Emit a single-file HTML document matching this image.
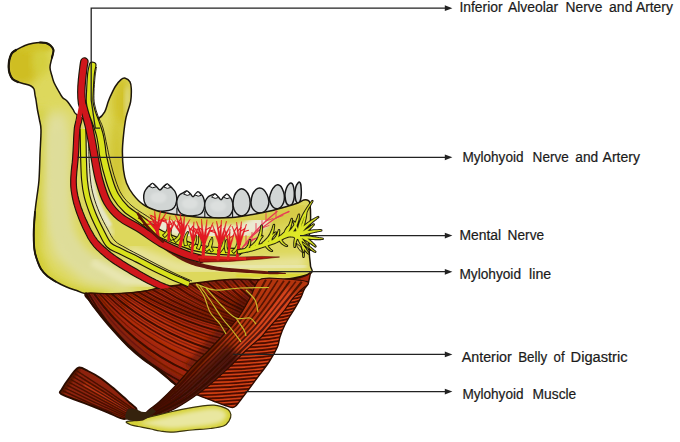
<!DOCTYPE html>
<html><head><meta charset="utf-8"><title>Mandible diagram</title>
<style>
html,body{margin:0;padding:0;background:#fff;}
body{width:680px;height:442px;overflow:hidden;}
svg{display:block;}
text{font-family:"Liberation Sans",sans-serif;font-size:14px;fill:#1a1a1a;stroke:#1a1a1a;stroke-width:0.2px;}
</style></head><body>
<svg width="680" height="442" viewBox="0 0 680 442">
<rect width="680" height="442" fill="#fff"/>
<defs>
<filter id="b1" x="-10%" y="-10%" width="120%" height="120%"><feGaussianBlur stdDeviation="1.2"/></filter>
<filter id="b2" x="-10%" y="-10%" width="120%" height="120%"><feGaussianBlur stdDeviation="2.2"/></filter>
<filter id="b3" x="-20%" y="-20%" width="140%" height="140%"><feGaussianBlur stdDeviation="4"/></filter>
<filter id="b6" x="-30%" y="-30%" width="160%" height="160%"><feGaussianBlur stdDeviation="7"/></filter>
<filter id="soft" x="-2%" y="-2%" width="104%" height="104%"><feGaussianBlur stdDeviation="0.55"/></filter>
<filter id="soft2" x="-2%" y="-2%" width="104%" height="104%"><feGaussianBlur stdDeviation="0.35"/></filter>
<clipPath id="cb"><path d="M10.0,57.5C10.5,56.0 11.0,54.2 12.0,53.0C13.0,51.8 13.8,51.2 16.0,50.0C18.2,48.8 22.2,46.6 25.0,45.5C27.8,44.4 30.5,43.8 33.0,43.3C35.5,42.8 37.8,42.5 40.0,42.5C42.2,42.5 44.2,42.5 46.0,43.0C47.8,43.5 49.2,44.3 50.5,45.5C51.8,46.7 53.2,48.0 53.5,50.0C53.8,52.0 52.6,54.6 52.0,57.5C51.4,60.4 50.0,64.4 50.0,67.5C50.0,70.6 51.3,73.5 52.0,76.0C52.7,78.5 53.0,80.2 54.0,82.5C55.0,84.8 56.6,87.5 58.0,90.0C59.4,92.5 61.0,95.7 62.5,97.5C64.0,99.3 65.2,99.0 67.0,101.0C68.8,103.0 71.5,107.2 73.0,109.4C74.5,111.6 73.5,112.1 76.0,114.0C78.5,115.9 84.2,120.2 88.0,121.0C91.8,121.8 95.7,120.0 98.5,118.5C101.3,117.0 103.1,114.6 104.7,111.8C106.3,109.0 107.2,104.4 108.2,101.8C109.2,99.2 109.4,98.5 110.6,95.9C111.8,93.4 113.6,89.2 115.3,86.5C117.0,83.8 119.3,81.0 121.0,79.6C122.7,78.2 123.8,77.8 125.3,78.2C126.8,78.6 129.0,80.0 130.0,81.8C131.0,83.6 131.2,85.5 131.3,88.8C131.4,92.1 131.5,97.0 130.6,101.8C129.7,106.6 127.2,112.0 126.0,117.6C124.8,123.2 124.1,129.6 123.5,135.3C122.9,141.0 122.4,146.2 122.4,152.0C122.4,157.8 122.8,164.8 123.5,170.0C124.2,175.2 124.9,178.9 126.5,183.0C128.1,187.1 130.2,190.8 133.0,194.4C135.8,198.0 138.9,201.6 143.0,204.4C147.1,207.2 152.0,209.3 157.6,211.0C163.2,212.7 169.0,213.6 176.8,214.7C184.7,215.8 195.5,217.1 204.7,217.6C213.9,218.1 224.0,218.1 232.0,217.6C240.0,217.1 246.3,215.6 252.6,214.5C258.9,213.4 264.6,212.2 270.0,211.0C275.4,209.8 280.5,208.3 285.2,207.0C289.9,205.7 294.9,204.2 298.0,203.0C301.1,201.8 302.1,200.4 303.8,200.0C305.5,199.6 307.0,199.7 308.0,200.4C309.0,201.1 309.6,200.4 310.0,204.0C310.4,207.6 310.7,216.0 310.5,222.0C310.3,228.0 309.2,234.3 309.0,240.0C308.8,245.7 309.2,251.7 309.5,256.0C309.8,260.3 310.4,263.1 310.5,266.0C310.6,268.9 314.6,271.2 310.4,273.5C306.1,275.8 293.4,278.3 285.0,279.5C276.6,280.7 269.2,280.4 260.0,280.5C250.8,280.6 241.7,279.3 230.0,280.0C218.3,280.7 201.7,283.0 190.0,284.5C178.3,286.0 170.0,287.6 160.0,289.0C150.0,290.4 138.0,292.2 130.0,293.0C122.0,293.8 119.3,293.9 112.0,294.0C104.7,294.1 92.0,294.3 86.1,293.7C80.2,293.1 79.9,291.6 76.6,290.5C73.2,289.4 69.5,288.3 66.0,286.8C62.5,285.3 58.7,283.3 55.5,281.5C52.3,279.7 49.4,277.9 47.0,275.8C44.6,273.7 42.5,271.3 41.0,269.0C39.5,266.7 38.8,264.7 37.8,262.0C36.8,259.3 35.6,255.8 35.0,253.0C34.4,250.2 34.2,248.8 34.0,245.0C33.8,241.2 33.6,235.5 33.8,230.0C34.0,224.5 34.5,217.7 35.0,212.0C35.5,206.3 36.3,201.3 37.0,196.0C37.7,190.7 38.5,186.8 39.0,180.0C39.5,173.2 39.7,163.3 40.0,155.0C40.3,146.7 41.1,135.8 41.0,130.0C40.9,124.2 40.1,123.3 39.5,120.0C38.9,116.7 38.1,113.3 37.5,110.0C36.9,106.7 36.4,102.5 36.0,100.0C35.6,97.5 35.3,96.8 35.0,95.0C34.7,93.2 34.7,90.5 34.0,89.0C33.3,87.5 32.5,86.8 31.0,86.0C29.5,85.2 27.2,84.7 25.0,84.0C22.8,83.3 20.1,82.8 18.0,82.0C15.9,81.2 13.9,80.5 12.5,79.0C11.1,77.5 10.1,74.9 9.5,73.0C8.9,71.1 8.8,69.3 8.7,67.5C8.6,65.7 8.8,63.7 9.0,62.0C9.2,60.3 9.5,59.0 10.0,57.5Z"/></clipPath>
<clipPath id="cm"><path d="M86.0,293.5C89.5,292.0 102.5,294.2 112.0,293.8C121.5,293.4 135.0,292.4 143.0,291.4C151.0,290.4 152.4,288.9 160.0,287.6C167.6,286.3 176.7,285.2 188.4,283.8C200.1,282.4 217.9,280.2 230.0,279.5C242.1,278.8 251.5,279.9 260.7,279.8C269.9,279.8 278.4,279.6 285.0,279.2C291.6,278.8 296.3,278.3 300.0,277.6C303.7,276.9 305.3,276.0 307.0,275.2C308.7,274.4 310.0,272.2 310.3,273.0C310.6,273.8 309.4,278.2 309.0,280.0C308.6,281.8 308.8,282.3 308.0,284.0C307.2,285.7 305.1,287.8 304.0,290.0C302.9,292.2 302.6,294.1 301.2,297.0C299.8,299.9 297.3,304.3 295.3,307.6C293.3,310.9 291.2,314.1 289.4,317.0C287.6,319.9 286.3,322.0 284.7,325.3C283.1,328.6 281.2,333.4 280.0,337.0C278.8,340.6 279.2,342.8 277.4,347.0C275.6,351.2 272.8,356.3 269.0,362.0C265.2,367.7 259.2,375.2 254.8,381.2C250.4,387.2 245.8,393.5 242.3,397.8C238.8,402.1 237.1,406.0 234.0,407.2C230.9,408.4 227.5,406.0 224.0,405.0C220.5,404.0 217.8,402.7 213.2,401.0C208.6,399.3 202.7,397.3 196.6,394.7C190.5,392.1 181.0,387.6 176.8,385.4C172.6,383.1 174.8,383.8 171.6,381.2C168.4,378.6 162.5,373.2 157.8,369.5C153.1,365.8 148.0,362.8 143.2,359.0C138.3,355.2 133.6,351.3 128.7,346.6C123.8,341.9 118.5,336.0 114.0,331.0C109.5,326.0 105.4,321.1 101.6,316.4C97.8,311.7 93.8,306.7 91.2,302.9C88.6,299.1 82.5,295.0 86.0,293.5Z"/></clipPath>
<clipPath id="cd"><path d="M146.6,412.4C147.6,410.0 154.1,406.5 159.0,402.0C163.9,397.5 170.2,391.3 175.8,385.4C181.4,379.5 186.9,372.5 192.4,366.6C197.9,360.7 203.6,355.6 209.0,350.0C214.4,344.4 220.0,338.6 225.0,333.0C230.0,327.4 234.8,322.5 239.0,316.5C243.2,310.5 247.0,303.2 250.5,297.0C254.0,290.8 254.4,282.5 260.0,279.5C265.6,276.5 276.0,278.6 284.0,279.0C292.0,279.4 305.0,280.2 307.8,282.0C310.6,283.8 303.5,287.3 301.0,290.0C298.5,292.7 295.7,294.9 293.0,298.2C290.3,301.5 287.6,306.3 284.7,310.0C281.8,313.7 278.2,317.3 275.3,320.6C272.4,323.9 269.4,327.3 267.0,330.0C264.6,332.7 264.6,333.7 261.2,337.0C257.8,340.3 251.7,345.1 246.5,350.0C241.3,354.9 236.2,360.7 229.9,366.6C223.7,372.5 215.2,380.2 209.0,385.4C202.8,390.6 198.6,393.6 192.4,397.8C186.2,402.0 178.2,407.2 171.6,410.3C165.0,413.4 157.1,416.2 152.9,416.6C148.7,417.0 145.6,414.8 146.6,412.4Z"/></clipPath>
<clipPath id="ch"><path d="M126.3,421.8C127.1,421.1 130.9,421.4 135.0,420.5C139.1,419.6 145.6,417.9 150.8,416.6C156.0,415.4 160.8,414.2 166.0,413.0C171.2,411.8 175.9,410.5 182.0,409.3C188.1,408.1 197.5,406.5 202.8,405.8C208.1,405.1 210.9,405.1 214.0,405.2C217.1,405.3 219.2,405.9 221.5,406.6C223.8,407.3 226.4,408.2 228.0,409.5C229.6,410.8 230.7,412.6 230.9,414.5C231.1,416.4 230.2,419.1 229.0,421.0C227.8,422.9 226.8,424.8 223.6,426.0C220.4,427.2 215.2,427.8 210.0,428.5C204.8,429.2 198.8,429.4 192.4,430.0C186.0,430.6 177.0,432.0 171.6,432.2C166.2,432.4 163.5,431.5 160.0,431.0C156.5,430.5 154.5,429.8 150.8,429.0C147.1,428.2 141.5,427.2 138.0,426.5C134.5,425.8 131.9,425.3 130.0,424.5C128.1,423.7 125.5,422.5 126.3,421.8Z"/></clipPath>
<clipPath id="cp"><path d="M78.5,367.7C81.5,366.7 84.4,369.3 88.0,371.0C91.6,372.7 96.3,375.3 100.3,378.0C104.3,380.7 108.2,383.9 112.0,387.0C115.8,390.1 120.2,394.1 123.2,396.8C126.2,399.5 127.8,401.0 130.0,403.0C132.2,405.0 135.8,407.2 136.5,409.0C137.2,410.8 136.1,412.3 134.0,414.0C131.9,415.7 128.3,419.2 124.0,419.0C119.7,418.8 113.3,414.7 108.0,412.5C102.7,410.3 97.3,408.1 92.0,406.0C86.7,403.9 81.2,402.1 76.0,400.0C70.8,397.9 63.1,395.5 60.8,393.7C58.5,391.9 60.5,391.8 62.0,389.0C63.5,386.2 67.2,380.6 70.0,377.0C72.8,373.4 75.5,368.7 78.5,367.7Z"/></clipPath>
</defs>
<g filter="url(#soft)">
<path d="M146,203 L177,207 L205,209 L232,209 L250,207 L269,204 L285,200 L300,196 L301,204 L232,222 L205,222 L177,219 L147,210Z" fill="#dadddc"/>
<path d="M143.7,198.0C143.6,196.1 143.9,193.7 144.5,192.0C145.1,190.3 146.2,189.1 147.0,188.0C147.8,186.9 148.5,186.4 149.4,185.6C150.3,184.8 151.3,183.3 152.5,183.4C153.7,183.5 155.1,185.3 156.3,186.4C157.5,187.5 158.7,189.9 159.9,190.0C161.1,190.1 162.1,187.8 163.3,186.8C164.5,185.8 165.9,183.9 167.2,184.0C168.5,184.1 170.0,186.1 171.3,187.3C172.6,188.6 174.1,189.7 175.0,191.5C175.9,193.3 176.7,195.8 176.8,198.0C176.9,200.2 176.4,203.1 175.6,205.0C174.8,206.9 173.8,208.3 172.0,209.3C170.2,210.3 167.5,210.7 165.0,211.0C162.5,211.3 159.7,211.4 157.0,211.0C154.3,210.6 151.0,209.8 149.0,208.5C147.0,207.2 145.9,205.2 145.0,203.5C144.1,201.8 143.8,199.9 143.7,198.0Z" fill="#d1d5d4" stroke="#161616" stroke-width="1.4" stroke-linejoin="round"/>
<ellipse cx="158.5" cy="197.5" rx="8" ry="5.5" fill="#dcdfde" filter="url(#b1)"/>
<path d="M176.8,203.0C176.7,201.2 177.1,199.4 177.6,198.0C178.1,196.6 179.0,195.4 180.0,194.5C181.0,193.6 182.3,193.2 183.5,192.6C184.7,192.0 185.9,190.8 187.0,191.0C188.1,191.2 189.3,192.8 190.3,193.8C191.3,194.8 192.1,196.8 193.0,196.8C193.9,196.8 194.7,194.8 195.5,194.0C196.3,193.2 197.1,191.8 198.0,191.8C198.9,191.8 200.1,193.1 201.0,194.0C201.9,194.9 202.8,196.0 203.4,197.5C204.0,199.0 204.6,201.0 204.7,203.0C204.8,205.0 204.5,207.7 203.8,209.5C203.1,211.3 202.1,212.9 200.5,214.0C198.9,215.1 196.2,215.5 194.0,215.8C191.8,216.1 189.2,216.0 187.0,215.6C184.8,215.2 182.5,214.6 181.0,213.5C179.5,212.4 178.7,210.8 178.0,209.0C177.3,207.2 176.9,204.8 176.8,203.0Z" fill="#d1d5d4" stroke="#161616" stroke-width="1.4" stroke-linejoin="round"/>
<ellipse cx="189.8" cy="203.5" rx="8" ry="5.5" fill="#dcdfde" filter="url(#b1)"/>
<path d="M204.7,205.5C204.6,203.7 205.0,201.9 205.6,200.5C206.2,199.1 207.0,197.9 208.0,197.0C209.0,196.1 210.3,195.7 211.5,195.2C212.7,194.7 213.8,193.7 215.0,194.0C216.2,194.3 217.4,196.0 218.4,197.0C219.4,198.0 220.1,199.8 220.9,199.8C221.8,199.8 222.5,197.7 223.5,196.8C224.5,195.9 225.8,194.2 226.8,194.2C227.8,194.2 228.8,195.6 229.6,196.6C230.4,197.6 231.2,198.5 231.8,200.0C232.4,201.5 232.9,203.6 233.0,205.5C233.1,207.4 232.9,209.8 232.2,211.5C231.5,213.2 230.6,214.9 229.0,216.0C227.4,217.1 224.8,217.7 222.5,218.0C220.2,218.3 217.7,218.3 215.5,218.0C213.3,217.7 211.1,217.1 209.5,216.0C207.9,214.9 206.8,213.2 206.0,211.5C205.2,209.8 204.8,207.3 204.7,205.5Z" fill="#d1d5d4" stroke="#161616" stroke-width="1.4" stroke-linejoin="round"/>
<ellipse cx="218.1" cy="206.1" rx="8" ry="5.5" fill="#dcdfde" filter="url(#b1)"/>
<path d="M233.0,203.0C233.1,200.7 233.7,197.6 234.5,195.5C235.3,193.4 236.8,191.6 238.0,190.5C239.2,189.4 240.2,188.7 241.5,188.7C242.8,188.7 244.2,189.3 245.5,190.5C246.8,191.7 248.2,193.9 249.0,196.0C249.8,198.1 250.2,200.8 250.2,203.0C250.2,205.2 249.7,207.7 249.0,209.5C248.3,211.3 247.2,212.9 246.0,214.0C244.8,215.1 243.0,216.0 241.5,216.0C240.0,216.0 238.2,215.1 237.0,214.0C235.8,212.9 234.7,211.3 234.0,209.5C233.3,207.7 232.9,205.3 233.0,203.0Z" fill="#d2d6d5" stroke="#161616" stroke-width="1.5"/>
<path d="M251.0,202.0C251.1,199.8 251.7,196.6 252.5,194.5C253.3,192.4 254.8,190.6 256.0,189.5C257.2,188.4 258.2,187.9 259.5,187.9C260.8,187.9 262.2,188.3 263.5,189.5C264.8,190.7 266.3,193.0 267.2,195.0C268.1,197.0 268.8,199.5 268.9,201.5C269.0,203.5 268.5,205.3 267.8,207.0C267.1,208.7 265.8,210.5 264.5,211.5C263.2,212.5 261.5,213.0 260.0,213.0C258.5,213.0 256.8,212.4 255.5,211.5C254.2,210.6 252.8,209.1 252.0,207.5C251.2,205.9 250.9,204.2 251.0,202.0Z" fill="#d2d6d5" stroke="#161616" stroke-width="1.5"/>
<path d="M269.5,198.0C269.7,196.0 270.6,193.0 271.5,191.0C272.4,189.0 273.9,187.1 275.0,186.0C276.1,184.9 277.0,184.6 278.0,184.7C279.0,184.8 280.1,185.3 281.0,186.5C281.9,187.7 283.0,190.2 283.6,192.0C284.2,193.8 284.4,195.8 284.4,197.5C284.4,199.2 284.2,200.9 283.6,202.5C283.0,204.1 282.0,205.9 281.0,207.0C280.0,208.1 278.8,208.7 277.5,208.8C276.2,208.9 274.7,208.5 273.5,207.5C272.3,206.5 271.2,204.6 270.5,203.0C269.8,201.4 269.3,200.0 269.5,198.0Z" fill="#d2d6d5" stroke="#161616" stroke-width="1.5"/>
<path d="M285.0,194.0C285.2,192.0 285.8,189.7 286.5,188.0C287.2,186.3 288.2,184.8 289.0,184.0C289.8,183.2 290.3,182.8 291.0,183.0C291.7,183.2 292.5,183.7 293.0,185.0C293.5,186.3 294.0,189.2 294.2,191.0C294.4,192.8 294.4,194.4 294.3,196.0C294.2,197.6 294.0,199.1 293.6,200.5C293.2,201.9 292.5,203.7 291.8,204.5C291.1,205.3 290.3,205.6 289.5,205.5C288.7,205.4 287.7,204.9 287.0,204.0C286.3,203.1 285.8,201.7 285.5,200.0C285.2,198.3 284.8,196.0 285.0,194.0Z" fill="#d2d6d5" stroke="#161616" stroke-width="1.5"/>
<path d="M295.0,192.0C295.1,190.2 295.5,188.0 296.0,186.5C296.5,185.0 297.4,183.7 298.0,183.0C298.6,182.3 299.1,181.9 299.6,182.2C300.1,182.4 300.5,183.0 300.8,184.5C301.1,186.0 301.2,189.2 301.3,191.0C301.4,192.8 301.3,194.1 301.2,195.5C301.1,196.9 300.9,198.3 300.6,199.5C300.3,200.7 299.7,201.9 299.2,202.5C298.7,203.1 298.0,203.2 297.5,203.0C297.0,202.8 296.4,202.0 296.0,201.0C295.6,200.0 295.4,198.5 295.2,197.0C295.0,195.5 294.9,193.8 295.0,192.0Z" fill="#d2d6d5" stroke="#161616" stroke-width="1.5"/>
<path d="M149.1,186.4 L152.5,183.2 L156.1,186.8 L152.7,187.8 Z" fill="#f6f6f6" stroke="#161616" stroke-width="1" stroke-linejoin="round"/>
<path d="M163.8,187.0 L167.2,183.8 L170.8,187.4 L167.4,188.4 Z" fill="#f6f6f6" stroke="#161616" stroke-width="1" stroke-linejoin="round"/>
<path d="M183.6,194.0 L187.0,190.8 L190.6,194.4 L187.2,195.4 Z" fill="#f6f6f6" stroke="#161616" stroke-width="1" stroke-linejoin="round"/>
<path d="M194.6,194.8 L198.0,191.6 L201.6,195.2 L198.2,196.2 Z" fill="#f6f6f6" stroke="#161616" stroke-width="1" stroke-linejoin="round"/>
<path d="M211.6,197.0 L215.0,193.8 L218.6,197.4 L215.2,198.4 Z" fill="#f6f6f6" stroke="#161616" stroke-width="1" stroke-linejoin="round"/>
<path d="M223.4,197.2 L226.8,194.0 L230.4,197.6 L227.0,198.6 Z" fill="#f6f6f6" stroke="#161616" stroke-width="1" stroke-linejoin="round"/>
<path d="M10.0,57.5C10.5,56.0 11.0,54.2 12.0,53.0C13.0,51.8 13.8,51.2 16.0,50.0C18.2,48.8 22.2,46.6 25.0,45.5C27.8,44.4 30.5,43.8 33.0,43.3C35.5,42.8 37.8,42.5 40.0,42.5C42.2,42.5 44.2,42.5 46.0,43.0C47.8,43.5 49.2,44.3 50.5,45.5C51.8,46.7 53.2,48.0 53.5,50.0C53.8,52.0 52.6,54.6 52.0,57.5C51.4,60.4 50.0,64.4 50.0,67.5C50.0,70.6 51.3,73.5 52.0,76.0C52.7,78.5 53.0,80.2 54.0,82.5C55.0,84.8 56.6,87.5 58.0,90.0C59.4,92.5 61.0,95.7 62.5,97.5C64.0,99.3 65.2,99.0 67.0,101.0C68.8,103.0 71.5,107.2 73.0,109.4C74.5,111.6 73.5,112.1 76.0,114.0C78.5,115.9 84.2,120.2 88.0,121.0C91.8,121.8 95.7,120.0 98.5,118.5C101.3,117.0 103.1,114.6 104.7,111.8C106.3,109.0 107.2,104.4 108.2,101.8C109.2,99.2 109.4,98.5 110.6,95.9C111.8,93.4 113.6,89.2 115.3,86.5C117.0,83.8 119.3,81.0 121.0,79.6C122.7,78.2 123.8,77.8 125.3,78.2C126.8,78.6 129.0,80.0 130.0,81.8C131.0,83.6 131.2,85.5 131.3,88.8C131.4,92.1 131.5,97.0 130.6,101.8C129.7,106.6 127.2,112.0 126.0,117.6C124.8,123.2 124.1,129.6 123.5,135.3C122.9,141.0 122.4,146.2 122.4,152.0C122.4,157.8 122.8,164.8 123.5,170.0C124.2,175.2 124.9,178.9 126.5,183.0C128.1,187.1 130.2,190.8 133.0,194.4C135.8,198.0 138.9,201.6 143.0,204.4C147.1,207.2 152.0,209.3 157.6,211.0C163.2,212.7 169.0,213.6 176.8,214.7C184.7,215.8 195.5,217.1 204.7,217.6C213.9,218.1 224.0,218.1 232.0,217.6C240.0,217.1 246.3,215.6 252.6,214.5C258.9,213.4 264.6,212.2 270.0,211.0C275.4,209.8 280.5,208.3 285.2,207.0C289.9,205.7 294.9,204.2 298.0,203.0C301.1,201.8 302.1,200.4 303.8,200.0C305.5,199.6 307.0,199.7 308.0,200.4C309.0,201.1 309.6,200.4 310.0,204.0C310.4,207.6 310.7,216.0 310.5,222.0C310.3,228.0 309.2,234.3 309.0,240.0C308.8,245.7 309.2,251.7 309.5,256.0C309.8,260.3 310.4,263.1 310.5,266.0C310.6,268.9 314.6,271.2 310.4,273.5C306.1,275.8 293.4,278.3 285.0,279.5C276.6,280.7 269.2,280.4 260.0,280.5C250.8,280.6 241.7,279.3 230.0,280.0C218.3,280.7 201.7,283.0 190.0,284.5C178.3,286.0 170.0,287.6 160.0,289.0C150.0,290.4 138.0,292.2 130.0,293.0C122.0,293.8 119.3,293.9 112.0,294.0C104.7,294.1 92.0,294.3 86.1,293.7C80.2,293.1 79.9,291.6 76.6,290.5C73.2,289.4 69.5,288.3 66.0,286.8C62.5,285.3 58.7,283.3 55.5,281.5C52.3,279.7 49.4,277.9 47.0,275.8C44.6,273.7 42.5,271.3 41.0,269.0C39.5,266.7 38.8,264.7 37.8,262.0C36.8,259.3 35.6,255.8 35.0,253.0C34.4,250.2 34.2,248.8 34.0,245.0C33.8,241.2 33.6,235.5 33.8,230.0C34.0,224.5 34.5,217.7 35.0,212.0C35.5,206.3 36.3,201.3 37.0,196.0C37.7,190.7 38.5,186.8 39.0,180.0C39.5,173.2 39.7,163.3 40.0,155.0C40.3,146.7 41.1,135.8 41.0,130.0C40.9,124.2 40.1,123.3 39.5,120.0C38.9,116.7 38.1,113.3 37.5,110.0C36.9,106.7 36.4,102.5 36.0,100.0C35.6,97.5 35.3,96.8 35.0,95.0C34.7,93.2 34.7,90.5 34.0,89.0C33.3,87.5 32.5,86.8 31.0,86.0C29.5,85.2 27.2,84.7 25.0,84.0C22.8,83.3 20.1,82.8 18.0,82.0C15.9,81.2 13.9,80.5 12.5,79.0C11.1,77.5 10.1,74.9 9.5,73.0C8.9,71.1 8.8,69.3 8.7,67.5C8.6,65.7 8.8,63.7 9.0,62.0C9.2,60.3 9.5,59.0 10.0,57.5Z" fill="#ddd85c"/>
<g clip-path="url(#cb)">
<ellipse cx="22" cy="64" rx="18" ry="22" fill="#cfbe22" filter="url(#b3)"/>
<ellipse cx="34" cy="47" rx="18" ry="7" fill="#d1c328" filter="url(#b2)"/>
<ellipse cx="41" cy="62" rx="9" ry="13" fill="#d4cf3c" filter="url(#b3)"/>
<ellipse cx="122" cy="102" rx="10" ry="26" fill="#d1c22a" filter="url(#b3)"/>
<ellipse cx="117" cy="160" rx="8" ry="40" fill="#d1c636" filter="url(#b3)"/>
<ellipse cx="127.5" cy="102" rx="3" ry="17" fill="#ddd878" filter="url(#b2)"/>
<path d="M43,110 L40,160 L38,200 L33,250 L45,280 L70,293 L110,296" stroke="#d2cd30" stroke-width="13" fill="none" filter="url(#b3)"/>
<path d="M57,112 L56,200 L64,250 L90,272 L135,280" stroke="#e0dfa0" stroke-width="24" fill="none" filter="url(#b6)"/>
<path d="M58,130 L60,230 L80,258 L110,274" stroke="#dedd9a" stroke-width="16" fill="none" filter="url(#b3)"/>
<path d="M92,262 L125,280 L160,284" stroke="#e8e6b0" stroke-width="8" fill="none" filter="url(#b2)"/>
<path d="M86,150 L92,200 L112,235" stroke="#e4e2a6" stroke-width="6" fill="none" filter="url(#b2)"/>
<path d="M128,250 L180,268 L240,266 L305,262" stroke="#e9e5a2" stroke-width="11" fill="none" filter="url(#b3)"/>
<path d="M150,214 L210,227 L260,223 L305,209" stroke="#d5ca44" stroke-width="15" fill="none" filter="url(#b3)"/>
<path d="M160,224 L200,234 L240,232 L262,222" stroke="#ecead2" stroke-width="15" fill="none" filter="url(#b2)" stroke-linecap="round"/>
<path d="M200,266 L250,267.5 L306,266" stroke="#e8e7ae" stroke-width="7" fill="none" filter="url(#b2)"/>
<path d="M236,276.5 L310,274.4" stroke="#dcd832" stroke-width="4.4" fill="none" filter="url(#b1)"/>
<path d="M306,205 L306,268" stroke="#d8d040" stroke-width="7" fill="none" filter="url(#b2)"/>
</g>
<path d="M10.0,57.5C10.5,56.0 11.0,54.2 12.0,53.0C13.0,51.8 13.8,51.2 16.0,50.0C18.2,48.8 22.2,46.6 25.0,45.5C27.8,44.4 30.5,43.8 33.0,43.3C35.5,42.8 37.8,42.5 40.0,42.5C42.2,42.5 44.2,42.5 46.0,43.0C47.8,43.5 49.2,44.3 50.5,45.5C51.8,46.7 53.2,48.0 53.5,50.0C53.8,52.0 52.6,54.6 52.0,57.5C51.4,60.4 50.0,64.4 50.0,67.5C50.0,70.6 51.3,73.5 52.0,76.0C52.7,78.5 53.0,80.2 54.0,82.5C55.0,84.8 56.6,87.5 58.0,90.0C59.4,92.5 61.0,95.7 62.5,97.5C64.0,99.3 65.2,99.0 67.0,101.0C68.8,103.0 71.5,107.2 73.0,109.4C74.5,111.6 73.5,112.1 76.0,114.0C78.5,115.9 84.2,120.2 88.0,121.0C91.8,121.8 95.7,120.0 98.5,118.5C101.3,117.0 103.1,114.6 104.7,111.8C106.3,109.0 107.2,104.4 108.2,101.8C109.2,99.2 109.4,98.5 110.6,95.9C111.8,93.4 113.6,89.2 115.3,86.5C117.0,83.8 119.3,81.0 121.0,79.6C122.7,78.2 123.8,77.8 125.3,78.2C126.8,78.6 129.0,80.0 130.0,81.8C131.0,83.6 131.2,85.5 131.3,88.8C131.4,92.1 131.5,97.0 130.6,101.8C129.7,106.6 127.2,112.0 126.0,117.6C124.8,123.2 124.1,129.6 123.5,135.3C122.9,141.0 122.4,146.2 122.4,152.0C122.4,157.8 122.8,164.8 123.5,170.0C124.2,175.2 124.9,178.9 126.5,183.0C128.1,187.1 130.2,190.8 133.0,194.4C135.8,198.0 138.9,201.6 143.0,204.4C147.1,207.2 152.0,209.3 157.6,211.0C163.2,212.7 169.0,213.6 176.8,214.7C184.7,215.8 195.5,217.1 204.7,217.6C213.9,218.1 224.0,218.1 232.0,217.6C240.0,217.1 246.3,215.6 252.6,214.5C258.9,213.4 264.6,212.2 270.0,211.0C275.4,209.8 280.5,208.3 285.2,207.0C289.9,205.7 294.9,204.2 298.0,203.0C301.1,201.8 302.1,200.4 303.8,200.0C305.5,199.6 307.0,199.7 308.0,200.4C309.0,201.1 309.6,200.4 310.0,204.0C310.4,207.6 310.7,216.0 310.5,222.0C310.3,228.0 309.2,234.3 309.0,240.0C308.8,245.7 309.2,251.7 309.5,256.0C309.8,260.3 310.4,263.1 310.5,266.0C310.6,268.9 314.6,271.2 310.4,273.5C306.1,275.8 293.4,278.3 285.0,279.5C276.6,280.7 269.2,280.4 260.0,280.5C250.8,280.6 241.7,279.3 230.0,280.0C218.3,280.7 201.7,283.0 190.0,284.5C178.3,286.0 170.0,287.6 160.0,289.0C150.0,290.4 138.0,292.2 130.0,293.0C122.0,293.8 119.3,293.9 112.0,294.0C104.7,294.1 92.0,294.3 86.1,293.7C80.2,293.1 79.9,291.6 76.6,290.5C73.2,289.4 69.5,288.3 66.0,286.8C62.5,285.3 58.7,283.3 55.5,281.5C52.3,279.7 49.4,277.9 47.0,275.8C44.6,273.7 42.5,271.3 41.0,269.0C39.5,266.7 38.8,264.7 37.8,262.0C36.8,259.3 35.6,255.8 35.0,253.0C34.4,250.2 34.2,248.8 34.0,245.0C33.8,241.2 33.6,235.5 33.8,230.0C34.0,224.5 34.5,217.7 35.0,212.0C35.5,206.3 36.3,201.3 37.0,196.0C37.7,190.7 38.5,186.8 39.0,180.0C39.5,173.2 39.7,163.3 40.0,155.0C40.3,146.7 41.1,135.8 41.0,130.0C40.9,124.2 40.1,123.3 39.5,120.0C38.9,116.7 38.1,113.3 37.5,110.0C36.9,106.7 36.4,102.5 36.0,100.0C35.6,97.5 35.3,96.8 35.0,95.0C34.7,93.2 34.7,90.5 34.0,89.0C33.3,87.5 32.5,86.8 31.0,86.0C29.5,85.2 27.2,84.7 25.0,84.0C22.8,83.3 20.1,82.8 18.0,82.0C15.9,81.2 13.9,80.5 12.5,79.0C11.1,77.5 10.1,74.9 9.5,73.0C8.9,71.1 8.8,69.3 8.7,67.5C8.6,65.7 8.8,63.7 9.0,62.0C9.2,60.3 9.5,59.0 10.0,57.5Z" fill="none" stroke="#1d1608" stroke-width="1.5" stroke-linejoin="round"/>
<path d="M16.0,50.0C15.3,50.5 13.0,51.8 12.0,53.0C11.0,54.2 10.5,56.0 10.0,57.5C9.5,59.0 9.2,60.3 9.0,62.0C8.8,63.7 8.6,65.7 8.7,67.5C8.8,69.3 8.9,71.1 9.5,73.0C10.1,74.9 11.1,77.5 12.5,79.0C13.9,80.5 17.1,81.5 18.0,82.0" fill="none" stroke="#1d1608" stroke-width="2.2" stroke-linecap="round"/>
<path d="M40.0,42.5C41.0,42.6 44.2,42.5 46.0,43.0C47.8,43.5 49.2,44.3 50.5,45.5C51.8,46.7 53.2,48.0 53.5,50.0C53.8,52.0 52.2,56.2 52.0,57.5" fill="none" stroke="#1d1608" stroke-width="2" stroke-linecap="round"/>
<path d="M35.0,212.0C34.8,215.0 34.0,224.5 33.8,230.0C33.6,235.5 33.8,241.2 34.0,245.0C34.2,248.8 34.4,250.2 35.0,253.0C35.6,255.8 36.8,259.3 37.8,262.0C38.8,264.7 39.5,266.7 41.0,269.0C42.5,271.3 44.6,273.7 47.0,275.8C49.4,277.9 54.1,280.6 55.5,281.5" fill="none" stroke="#1d1608" stroke-width="1.9" stroke-linecap="round"/>
<path d="M176.9,214.7 l0,-7" stroke="#161616" stroke-width="1.1"/>
<path d="M204.8,217.6 l0,-7" stroke="#161616" stroke-width="1.1"/>
<path d="M232.6,217.6 l0,-7" stroke="#161616" stroke-width="1.1"/>
<path d="M86.0,293.5C89.5,292.0 102.5,294.2 112.0,293.8C121.5,293.4 135.0,292.4 143.0,291.4C151.0,290.4 152.4,288.9 160.0,287.6C167.6,286.3 176.7,285.2 188.4,283.8C200.1,282.4 217.9,280.2 230.0,279.5C242.1,278.8 251.5,279.9 260.7,279.8C269.9,279.8 278.4,279.6 285.0,279.2C291.6,278.8 296.3,278.3 300.0,277.6C303.7,276.9 305.3,276.0 307.0,275.2C308.7,274.4 310.0,272.2 310.3,273.0C310.6,273.8 309.4,278.2 309.0,280.0C308.6,281.8 308.8,282.3 308.0,284.0C307.2,285.7 305.1,287.8 304.0,290.0C302.9,292.2 302.6,294.1 301.2,297.0C299.8,299.9 297.3,304.3 295.3,307.6C293.3,310.9 291.2,314.1 289.4,317.0C287.6,319.9 286.3,322.0 284.7,325.3C283.1,328.6 281.2,333.4 280.0,337.0C278.8,340.6 279.2,342.8 277.4,347.0C275.6,351.2 272.8,356.3 269.0,362.0C265.2,367.7 259.2,375.2 254.8,381.2C250.4,387.2 245.8,393.5 242.3,397.8C238.8,402.1 237.1,406.0 234.0,407.2C230.9,408.4 227.5,406.0 224.0,405.0C220.5,404.0 217.8,402.7 213.2,401.0C208.6,399.3 202.7,397.3 196.6,394.7C190.5,392.1 181.0,387.6 176.8,385.4C172.6,383.1 174.8,383.8 171.6,381.2C168.4,378.6 162.5,373.2 157.8,369.5C153.1,365.8 148.0,362.8 143.2,359.0C138.3,355.2 133.6,351.3 128.7,346.6C123.8,341.9 118.5,336.0 114.0,331.0C109.5,326.0 105.4,321.1 101.6,316.4C97.8,311.7 93.8,306.7 91.2,302.9C88.6,299.1 82.5,295.0 86.0,293.5Z" fill="#a5280a"/>
<g clip-path="url(#cm)">
<path d="M86,293 L120,335 L160,372 L200,395" stroke="#7a1c07" stroke-width="13" fill="none" filter="url(#b3)"/>
<path d="M128,304 L170,335 L205,352" stroke="#bd3210" stroke-width="20" fill="none" filter="url(#b3)"/>
<path d="M300,296 L278,345 L250,388" stroke="#c4360f" stroke-width="12" fill="none" filter="url(#b2)"/>
<path d="M90,295 L200,284 L300,278" stroke="#85200a" stroke-width="5" fill="none" filter="url(#b1)"/>
<path d="M254,284 L236,314 L207,348 L188,368" stroke="#6a1a08" stroke-width="9" fill="none" filter="url(#b2)" opacity="0.8"/>
<path d="M88.5,293.5 Q121.1,350.9 179.8,381.0" stroke="#380a02" stroke-width="1.6" fill="none" opacity="0.95"/>
<path d="M91.2,293.6 Q125.9,348.1 184.0,376.2" stroke="#5a1405" stroke-width="1.2" fill="none" opacity="0.6"/>
<path d="M94.0,293.6 Q130.5,345.3 188.2,371.4" stroke="#380a02" stroke-width="1.9" fill="none" opacity="0.95"/>
<path d="M96.8,293.6 Q135.2,342.5 192.6,366.4" stroke="#5a1405" stroke-width="1.2" fill="none" opacity="0.6"/>
<path d="M99.7,293.7 Q140.2,339.8 197.6,361.4" stroke="#4a0e03" stroke-width="1.6" fill="none" opacity="0.95"/>
<path d="M102.6,293.7 Q144.7,337.3 201.9,357.1" stroke="#5a1405" stroke-width="1.2" fill="none" opacity="0.6"/>
<path d="M105.6,293.7 Q148.1,335.5 204.5,354.5" stroke="#4a0e03" stroke-width="1.7" fill="none" opacity="0.95"/>
<path d="M108.6,293.8 Q151.5,333.6 207.2,351.8" stroke="#5a1405" stroke-width="1.2" fill="none" opacity="0.6"/>
<path d="M111.6,293.8 Q154.9,331.8 209.8,349.1" stroke="#380a02" stroke-width="2.1" fill="none" opacity="0.95"/>
<path d="M114.8,293.6 Q158.2,329.9 212.4,346.4" stroke="#5a1405" stroke-width="1.2" fill="none" opacity="0.6"/>
<path d="M117.9,293.3 Q161.6,328.0 215.0,343.6" stroke="#4a0e03" stroke-width="1.7" fill="none" opacity="0.95"/>
<path d="M121.1,293.1 Q164.9,326.0 217.7,340.7" stroke="#5a1405" stroke-width="1.2" fill="none" opacity="0.6"/>
<path d="M124.4,292.8 Q168.2,324.2 220.2,338.1" stroke="#3e0b02" stroke-width="1.6" fill="none" opacity="0.95"/>
<path d="M127.7,292.6 Q171.5,322.3 222.7,335.4" stroke="#5a1405" stroke-width="1.2" fill="none" opacity="0.6"/>
<path d="M131.0,292.3 Q174.7,320.6 225.2,332.8" stroke="#380a02" stroke-width="1.9" fill="none" opacity="0.95"/>
<path d="M134.5,292.1 Q177.9,318.7 227.5,330.0" stroke="#5a1405" stroke-width="1.2" fill="none" opacity="0.6"/>
<path d="M137.9,291.8 Q180.8,317.1 229.5,327.8" stroke="#3e0b02" stroke-width="1.7" fill="none" opacity="0.95"/>
<path d="M141.4,291.5 Q183.1,316.1 230.3,326.8" stroke="#5a1405" stroke-width="1.2" fill="none" opacity="0.6"/>
<path d="M144.9,291.0 Q185.4,315.0 231.1,325.8" stroke="#3e0b02" stroke-width="1.7" fill="none" opacity="0.95"/>
<path d="M148.5,290.2 Q187.7,313.7 232.0,324.8" stroke="#5a1405" stroke-width="1.2" fill="none" opacity="0.6"/>
<path d="M152.1,289.4 Q189.9,312.5 232.8,323.8" stroke="#4a0e03" stroke-width="1.9" fill="none" opacity="0.95"/>
<path d="M155.8,288.5 Q192.3,311.2 233.7,322.7" stroke="#5a1405" stroke-width="1.2" fill="none" opacity="0.6"/>
<path d="M159.5,287.7 Q194.6,310.0 234.6,321.7" stroke="#3e0b02" stroke-width="1.6" fill="none" opacity="0.95"/>
<path d="M163.2,287.2 Q197.0,309.0 235.5,320.7" stroke="#5a1405" stroke-width="1.2" fill="none" opacity="0.6"/>
<path d="M167.0,286.7 Q199.4,307.9 236.4,319.6" stroke="#541104" stroke-width="1.6" fill="none" opacity="0.95"/>
<path d="M170.8,286.1 Q201.9,306.9 237.3,318.5" stroke="#5a1405" stroke-width="1.2" fill="none" opacity="0.6"/>
<path d="M174.7,285.6 Q204.3,305.8 238.2,317.5" stroke="#4a0e03" stroke-width="1.9" fill="none" opacity="0.95"/>
<path d="M178.6,285.1 Q206.7,304.8 239.1,316.4" stroke="#5a1405" stroke-width="1.2" fill="none" opacity="0.6"/>
<path d="M182.5,284.6 Q209.1,303.7 239.7,315.2" stroke="#541104" stroke-width="1.6" fill="none" opacity="0.95"/>
<path d="M186.5,284.1 Q211.5,302.6 240.5,314.0" stroke="#5a1405" stroke-width="1.2" fill="none" opacity="0.6"/>
<path d="M190.5,283.6 Q214.0,301.5 241.3,312.7" stroke="#3e0b02" stroke-width="1.7" fill="none" opacity="0.95"/>
<path d="M194.5,283.2 Q216.4,300.4 242.0,311.4" stroke="#5a1405" stroke-width="1.2" fill="none" opacity="0.6"/>
<path d="M198.6,282.7 Q218.9,299.3 242.8,310.0" stroke="#380a02" stroke-width="2.1" fill="none" opacity="0.95"/>
<path d="M202.7,282.3 Q221.4,298.2 243.6,308.7" stroke="#5a1405" stroke-width="1.2" fill="none" opacity="0.6"/>
<path d="M206.8,281.9 Q223.9,297.1 244.4,307.4" stroke="#380a02" stroke-width="1.7" fill="none" opacity="0.95"/>
<path d="M210.9,281.5 Q226.4,296.0 245.2,306.0" stroke="#5a1405" stroke-width="1.2" fill="none" opacity="0.6"/>
<path d="M215.1,281.0 Q229.0,294.9 246.0,304.7" stroke="#541104" stroke-width="2.1" fill="none" opacity="0.95"/>
<path d="M219.3,280.6 Q231.5,293.8 246.8,303.3" stroke="#5a1405" stroke-width="1.2" fill="none" opacity="0.6"/>
<path d="M223.5,280.2 Q234.1,292.6 247.6,302.0" stroke="#4a0e03" stroke-width="2.1" fill="none" opacity="0.95"/>
<path d="M227.7,279.7 Q236.9,291.2 248.8,299.9" stroke="#5a1405" stroke-width="1.2" fill="none" opacity="0.6"/>
<path d="M231.9,279.5 Q240.0,289.5 250.4,297.2" stroke="#3e0b02" stroke-width="1.7" fill="none" opacity="0.95"/>
<path d="M236.2,279.5 Q243.0,288.0 251.9,294.5" stroke="#5a1405" stroke-width="1.2" fill="none" opacity="0.6"/>
<path d="M240.4,279.5 Q246.1,286.5 253.3,291.8" stroke="#3e0b02" stroke-width="1.6" fill="none" opacity="0.95"/>
<path d="M244.7,279.5 Q249.1,285.0 254.8,289.1" stroke="#5a1405" stroke-width="1.2" fill="none" opacity="0.6"/>
<path d="M249.0,279.5 Q252.2,283.4 256.2,286.4" stroke="#3e0b02" stroke-width="2.1" fill="none" opacity="0.95"/>
<path d="M253.3,279.5 Q255.2,281.9 257.7,283.7" stroke="#5a1405" stroke-width="1.2" fill="none" opacity="0.6"/>
<path d="M257.6,279.5 Q258.3,280.4 259.2,281.0" stroke="#380a02" stroke-width="1.7" fill="none" opacity="0.95"/>
<path d="M258.0,279.5 Q258.6,280.2 259.3,280.8" stroke="#5a1405" stroke-width="1.2" fill="none" opacity="0.6"/>
<path d="M297.0,292.0 Q301.9,291.5 306.7,288.8" stroke="#470e03" stroke-width="1.8" fill="none" opacity="0.92"/>
<path d="M297.0,293.8 Q301.9,293.3 306.7,290.6" stroke="#e04a18" stroke-width="1.5" fill="none" opacity="0.75"/>
<path d="M293.4,295.7 Q299.2,295.2 304.9,292.5" stroke="#470e03" stroke-width="1.8" fill="none" opacity="0.92"/>
<path d="M293.4,297.5 Q299.2,297.0 304.9,294.3" stroke="#e04a18" stroke-width="1.5" fill="none" opacity="0.75"/>
<path d="M290.2,299.4 Q296.8,298.9 303.4,296.2" stroke="#470e03" stroke-width="1.8" fill="none" opacity="0.92"/>
<path d="M290.2,301.2 Q296.8,300.7 303.4,298.0" stroke="#e04a18" stroke-width="1.5" fill="none" opacity="0.75"/>
<path d="M287.6,303.1 Q294.5,302.6 301.5,299.9" stroke="#470e03" stroke-width="1.8" fill="none" opacity="0.92"/>
<path d="M287.6,304.9 Q294.5,304.4 301.5,301.7" stroke="#e04a18" stroke-width="1.5" fill="none" opacity="0.75"/>
<path d="M285.0,306.8 Q292.2,306.3 299.4,303.6" stroke="#470e03" stroke-width="1.8" fill="none" opacity="0.92"/>
<path d="M285.0,308.6 Q292.2,308.1 299.4,305.4" stroke="#e04a18" stroke-width="1.5" fill="none" opacity="0.75"/>
<path d="M282.3,310.5 Q289.8,310.0 297.4,307.3" stroke="#470e03" stroke-width="1.8" fill="none" opacity="0.92"/>
<path d="M282.3,312.3 Q289.8,311.8 297.4,309.1" stroke="#e04a18" stroke-width="1.5" fill="none" opacity="0.75"/>
<path d="M279.0,314.2 Q287.0,313.7 295.0,311.0" stroke="#470e03" stroke-width="1.8" fill="none" opacity="0.92"/>
<path d="M279.0,316.0 Q287.0,315.5 295.0,312.8" stroke="#e04a18" stroke-width="1.5" fill="none" opacity="0.75"/>
<path d="M275.7,317.9 Q284.2,317.4 292.7,314.7" stroke="#470e03" stroke-width="1.8" fill="none" opacity="0.92"/>
<path d="M275.7,319.7 Q284.2,319.2 292.7,316.5" stroke="#e04a18" stroke-width="1.5" fill="none" opacity="0.75"/>
<path d="M272.4,321.6 Q281.5,321.1 290.5,318.4" stroke="#470e03" stroke-width="1.8" fill="none" opacity="0.92"/>
<path d="M272.4,323.4 Q281.5,322.9 290.5,320.2" stroke="#e04a18" stroke-width="1.5" fill="none" opacity="0.75"/>
<path d="M269.2,325.3 Q278.8,324.8 288.4,322.1" stroke="#470e03" stroke-width="1.8" fill="none" opacity="0.92"/>
<path d="M269.2,327.1 Q278.8,326.6 288.4,323.9" stroke="#e04a18" stroke-width="1.5" fill="none" opacity="0.75"/>
<path d="M265.9,329.0 Q276.2,328.5 286.4,325.8" stroke="#470e03" stroke-width="1.8" fill="none" opacity="0.92"/>
<path d="M265.9,330.8 Q276.2,330.3 286.4,327.6" stroke="#e04a18" stroke-width="1.5" fill="none" opacity="0.75"/>
<path d="M262.8,332.7 Q273.8,332.2 284.9,329.5" stroke="#470e03" stroke-width="1.8" fill="none" opacity="0.92"/>
<path d="M262.8,334.5 Q273.8,334.0 284.9,331.3" stroke="#e04a18" stroke-width="1.5" fill="none" opacity="0.75"/>
<path d="M259.7,336.4 Q271.6,335.9 283.4,333.2" stroke="#470e03" stroke-width="1.8" fill="none" opacity="0.92"/>
<path d="M259.7,338.2 Q271.6,337.7 283.4,335.0" stroke="#e04a18" stroke-width="1.5" fill="none" opacity="0.75"/>
<path d="M255.7,340.1 Q268.8,339.6 282.0,336.9" stroke="#470e03" stroke-width="1.8" fill="none" opacity="0.92"/>
<path d="M255.7,341.9 Q268.8,341.4 282.0,338.7" stroke="#e04a18" stroke-width="1.5" fill="none" opacity="0.75"/>
<path d="M251.5,343.8 Q266.3,343.3 281.0,340.6" stroke="#470e03" stroke-width="1.8" fill="none" opacity="0.92"/>
<path d="M251.5,345.6 Q266.3,345.1 281.0,342.4" stroke="#e04a18" stroke-width="1.5" fill="none" opacity="0.75"/>
<path d="M247.3,347.5 Q263.7,347.0 280.1,344.3" stroke="#470e03" stroke-width="1.8" fill="none" opacity="0.92"/>
<path d="M247.3,349.3 Q263.7,348.8 280.1,346.1" stroke="#e04a18" stroke-width="1.5" fill="none" opacity="0.75"/>
<path d="M243.3,351.2 Q261.0,350.7 278.7,348.0" stroke="#470e03" stroke-width="1.8" fill="none" opacity="0.92"/>
<path d="M243.3,353.0 Q261.0,352.5 278.7,349.8" stroke="#e04a18" stroke-width="1.5" fill="none" opacity="0.75"/>
<path d="M239.6,354.9 Q258.1,354.4 276.7,351.7" stroke="#470e03" stroke-width="1.8" fill="none" opacity="0.92"/>
<path d="M239.6,356.7 Q258.1,356.2 276.7,353.5" stroke="#e04a18" stroke-width="1.5" fill="none" opacity="0.75"/>
<path d="M235.9,358.6 Q255.2,358.1 274.6,355.4" stroke="#470e03" stroke-width="1.8" fill="none" opacity="0.92"/>
<path d="M235.9,360.4 Q255.2,359.9 274.6,357.2" stroke="#e04a18" stroke-width="1.5" fill="none" opacity="0.75"/>
<path d="M232.2,362.3 Q252.4,361.8 272.5,359.1" stroke="#470e03" stroke-width="1.8" fill="none" opacity="0.92"/>
<path d="M232.2,364.1 Q252.4,363.6 272.5,360.9" stroke="#e04a18" stroke-width="1.5" fill="none" opacity="0.75"/>
<path d="M228.5,366.0 Q249.4,365.5 270.3,362.8" stroke="#470e03" stroke-width="1.8" fill="none" opacity="0.92"/>
<path d="M228.5,367.8 Q249.4,367.3 270.3,364.6" stroke="#e04a18" stroke-width="1.5" fill="none" opacity="0.75"/>
<path d="M224.5,369.7 Q246.0,369.2 267.5,366.5" stroke="#470e03" stroke-width="1.8" fill="none" opacity="0.92"/>
<path d="M224.5,371.5 Q246.0,371.0 267.5,368.3" stroke="#e04a18" stroke-width="1.5" fill="none" opacity="0.75"/>
<path d="M220.3,373.4 Q242.6,372.9 264.8,370.2" stroke="#470e03" stroke-width="1.8" fill="none" opacity="0.92"/>
<path d="M220.3,375.2 Q242.6,374.7 264.8,372.0" stroke="#e04a18" stroke-width="1.5" fill="none" opacity="0.75"/>
<path d="M216.2,377.1 Q239.1,376.6 262.1,373.9" stroke="#470e03" stroke-width="1.8" fill="none" opacity="0.92"/>
<path d="M216.2,378.9 Q239.1,378.4 262.1,375.7" stroke="#e04a18" stroke-width="1.5" fill="none" opacity="0.75"/>
<path d="M212.1,380.8 Q235.7,380.3 259.3,377.6" stroke="#470e03" stroke-width="1.8" fill="none" opacity="0.92"/>
<path d="M212.1,382.6 Q235.7,382.1 259.3,379.4" stroke="#e04a18" stroke-width="1.5" fill="none" opacity="0.75"/>
<path d="M208.0,384.5 Q232.3,384.0 256.6,381.3" stroke="#470e03" stroke-width="1.8" fill="none" opacity="0.92"/>
<path d="M208.0,386.3 Q232.3,385.8 256.6,383.1" stroke="#e04a18" stroke-width="1.5" fill="none" opacity="0.75"/>
<path d="M203.3,388.2 Q228.5,387.7 253.8,385.0" stroke="#470e03" stroke-width="1.8" fill="none" opacity="0.92"/>
<path d="M203.3,390.0 Q228.5,389.5 253.8,386.8" stroke="#e04a18" stroke-width="1.5" fill="none" opacity="0.75"/>
<path d="M198.3,391.9 Q224.7,391.4 251.0,388.7" stroke="#470e03" stroke-width="1.8" fill="none" opacity="0.92"/>
<path d="M198.3,393.7 Q224.7,393.2 251.0,390.5" stroke="#e04a18" stroke-width="1.5" fill="none" opacity="0.75"/>
<path d="M193.3,395.6 Q220.8,395.1 248.2,392.4" stroke="#470e03" stroke-width="1.8" fill="none" opacity="0.92"/>
<path d="M193.3,397.4 Q220.8,396.9 248.2,394.2" stroke="#e04a18" stroke-width="1.5" fill="none" opacity="0.75"/>
<path d="M187.9,399.3 Q216.7,398.8 245.4,396.1" stroke="#470e03" stroke-width="1.8" fill="none" opacity="0.92"/>
<path d="M187.9,401.1 Q216.7,400.6 245.4,397.9" stroke="#e04a18" stroke-width="1.5" fill="none" opacity="0.75"/>
<path d="M181.7,403.0 Q212.1,402.5 242.4,399.8" stroke="#470e03" stroke-width="1.8" fill="none" opacity="0.92"/>
<path d="M181.7,404.8 Q212.1,404.3 242.4,401.6" stroke="#e04a18" stroke-width="1.5" fill="none" opacity="0.75"/>
<path d="M175.6,406.7 Q207.3,406.2 239.1,403.5" stroke="#470e03" stroke-width="1.8" fill="none" opacity="0.92"/>
<path d="M175.6,408.5 Q207.3,408.0 239.1,405.3" stroke="#e04a18" stroke-width="1.5" fill="none" opacity="0.75"/>
</g>
<path d="M86.0,293.5C89.5,292.0 102.5,294.2 112.0,293.8C121.5,293.4 135.0,292.4 143.0,291.4C151.0,290.4 152.4,288.9 160.0,287.6C167.6,286.3 176.7,285.2 188.4,283.8C200.1,282.4 217.9,280.2 230.0,279.5C242.1,278.8 251.5,279.9 260.7,279.8C269.9,279.8 278.4,279.6 285.0,279.2C291.6,278.8 296.3,278.3 300.0,277.6C303.7,276.9 305.3,276.0 307.0,275.2C308.7,274.4 310.0,272.2 310.3,273.0C310.6,273.8 309.4,278.2 309.0,280.0C308.6,281.8 308.8,282.3 308.0,284.0C307.2,285.7 305.1,287.8 304.0,290.0C302.9,292.2 302.6,294.1 301.2,297.0C299.8,299.9 297.3,304.3 295.3,307.6C293.3,310.9 291.2,314.1 289.4,317.0C287.6,319.9 286.3,322.0 284.7,325.3C283.1,328.6 281.2,333.4 280.0,337.0C278.8,340.6 279.2,342.8 277.4,347.0C275.6,351.2 272.8,356.3 269.0,362.0C265.2,367.7 259.2,375.2 254.8,381.2C250.4,387.2 245.8,393.5 242.3,397.8C238.8,402.1 237.1,406.0 234.0,407.2C230.9,408.4 227.5,406.0 224.0,405.0C220.5,404.0 217.8,402.7 213.2,401.0C208.6,399.3 202.7,397.3 196.6,394.7C190.5,392.1 181.0,387.6 176.8,385.4C172.6,383.1 174.8,383.8 171.6,381.2C168.4,378.6 162.5,373.2 157.8,369.5C153.1,365.8 148.0,362.8 143.2,359.0C138.3,355.2 133.6,351.3 128.7,346.6C123.8,341.9 118.5,336.0 114.0,331.0C109.5,326.0 105.4,321.1 101.6,316.4C97.8,311.7 93.8,306.7 91.2,302.9C88.6,299.1 82.5,295.0 86.0,293.5Z" fill="none" stroke="#300c03" stroke-width="1.4"/>
<path d="M86.0,293.5C86.9,295.1 88.6,299.1 91.2,302.9C93.8,306.7 97.8,311.7 101.6,316.4C105.4,321.1 109.5,326.0 114.0,331.0C118.5,336.0 123.8,341.9 128.7,346.6C133.6,351.3 138.3,355.2 143.2,359.0C148.0,362.8 153.1,365.8 157.8,369.5C162.5,373.2 168.4,378.6 171.6,381.2C174.8,383.8 175.9,384.7 176.8,385.4" fill="none" stroke="#2a0a03" stroke-width="2.4" stroke-linecap="round"/>
<path d="M146.6,412.4C147.6,410.0 154.1,406.5 159.0,402.0C163.9,397.5 170.2,391.3 175.8,385.4C181.4,379.5 186.9,372.5 192.4,366.6C197.9,360.7 203.6,355.6 209.0,350.0C214.4,344.4 220.0,338.6 225.0,333.0C230.0,327.4 234.8,322.5 239.0,316.5C243.2,310.5 247.0,303.2 250.5,297.0C254.0,290.8 254.4,282.5 260.0,279.5C265.6,276.5 276.0,278.6 284.0,279.0C292.0,279.4 305.0,280.2 307.8,282.0C310.6,283.8 303.5,287.3 301.0,290.0C298.5,292.7 295.7,294.9 293.0,298.2C290.3,301.5 287.6,306.3 284.7,310.0C281.8,313.7 278.2,317.3 275.3,320.6C272.4,323.9 269.4,327.3 267.0,330.0C264.6,332.7 264.6,333.7 261.2,337.0C257.8,340.3 251.7,345.1 246.5,350.0C241.3,354.9 236.2,360.7 229.9,366.6C223.7,372.5 215.2,380.2 209.0,385.4C202.8,390.6 198.6,393.6 192.4,397.8C186.2,402.0 178.2,407.2 171.6,410.3C165.0,413.4 157.1,416.2 152.9,416.6C148.7,417.0 145.6,414.8 146.6,412.4Z" fill="#b4350f"/>
<g clip-path="url(#cd)">
<path d="M292,292 L262,328 L232,360" stroke="#d9461a" stroke-width="16" fill="none" filter="url(#b2)" opacity="0.9"/>
<path d="M236,352 L200,385 L150,416" stroke="#4e1607" stroke-width="26" fill="none" filter="url(#b3)"/>
<path d="M252,287 L230,325 L200,362 L160,404" stroke="#5a1606" stroke-width="5" fill="none" filter="url(#b1)" opacity="0.85"/>
<path d="M266.0,279.8C263.7,283.7 257.1,295.5 252.3,303.0C247.4,310.5 242.4,318.0 236.8,324.9C231.2,331.9 224.7,338.3 218.6,344.8C212.4,351.3 206.9,356.5 199.6,364.0C192.3,371.5 183.4,381.8 174.7,389.9C166.0,398.1 151.9,409.1 147.4,412.9" stroke="#3e0c03" stroke-width="2.2" fill="none" opacity="0.8"/>
<path d="M271.9,280.1C269.5,284.0 262.5,295.8 257.3,303.4C252.2,311.0 247.0,318.5 241.2,325.6C235.3,332.7 228.7,339.1 222.4,345.7C216.0,352.4 210.5,357.7 202.9,365.3C195.3,372.9 186.1,383.2 177.0,391.2C167.9,399.3 153.0,409.7 148.2,413.4" stroke="#3e0c03" stroke-width="1.6" fill="none" opacity="0.8"/>
<path d="M277.9,280.4C275.3,284.3 267.8,296.1 262.4,303.8C257.0,311.4 251.6,319.1 245.5,326.2C239.5,333.4 232.7,340.0 226.2,346.7C219.6,353.4 214.0,358.9 206.2,366.6C198.4,374.2 188.7,384.6 179.2,392.5C169.7,400.4 154.0,410.4 149.0,414.0" stroke="#3e0c03" stroke-width="1.6" fill="none" opacity="0.8"/>
<path d="M283.9,280.8C281.2,284.7 273.1,296.5 267.4,304.2C261.8,311.9 256.2,319.7 249.9,326.9C243.7,334.1 236.7,340.8 230.0,347.6C223.2,354.4 217.6,360.2 209.5,367.9C201.4,375.6 191.4,386.1 181.4,393.8C171.5,401.6 155.0,411.1 149.8,414.5" stroke="#4a1004" stroke-width="1.9" fill="none" opacity="0.8"/>
<path d="M289.9,281.1C287.0,285.0 278.4,296.8 272.5,304.6C266.6,312.3 260.7,320.2 254.3,327.6C247.8,334.9 240.7,341.6 233.8,348.5C226.9,355.5 221.2,361.4 212.8,369.2C204.5,376.9 194.1,387.5 183.7,395.1C173.3,402.8 156.1,411.7 150.5,415.0" stroke="#340a02" stroke-width="1.9" fill="none" opacity="0.8"/>
<path d="M295.9,281.4C292.8,285.3 283.8,297.2 277.6,305.0C271.4,312.8 265.3,320.8 258.7,328.2C252.0,335.6 244.7,342.4 237.6,349.5C230.5,356.5 224.8,362.6 216.1,370.4C207.5,378.3 196.7,388.9 185.9,396.4C175.1,403.9 157.1,412.4 151.3,415.6" stroke="#4a1004" stroke-width="1.6" fill="none" opacity="0.8"/>
<path d="M301.8,281.7C298.6,285.6 289.1,297.5 282.6,305.4C276.2,313.2 269.9,321.4 263.1,328.9C256.2,336.4 248.7,343.2 241.4,350.4C234.1,357.5 228.3,363.8 219.5,371.7C210.6,379.6 199.4,390.3 188.1,397.7C176.9,405.1 158.1,413.0 152.1,416.1" stroke="#340a02" stroke-width="2.2" fill="none" opacity="0.8"/>
</g>
<path d="M146.6,412.4C147.6,410.0 154.1,406.5 159.0,402.0C163.9,397.5 170.2,391.3 175.8,385.4C181.4,379.5 186.9,372.5 192.4,366.6C197.9,360.7 203.6,355.6 209.0,350.0C214.4,344.4 220.0,338.6 225.0,333.0C230.0,327.4 234.8,322.5 239.0,316.5C243.2,310.5 247.0,303.2 250.5,297.0C254.0,290.8 254.4,282.5 260.0,279.5C265.6,276.5 276.0,278.6 284.0,279.0C292.0,279.4 305.0,280.2 307.8,282.0C310.6,283.8 303.5,287.3 301.0,290.0C298.5,292.7 295.7,294.9 293.0,298.2C290.3,301.5 287.6,306.3 284.7,310.0C281.8,313.7 278.2,317.3 275.3,320.6C272.4,323.9 269.4,327.3 267.0,330.0C264.6,332.7 264.6,333.7 261.2,337.0C257.8,340.3 251.7,345.1 246.5,350.0C241.3,354.9 236.2,360.7 229.9,366.6C223.7,372.5 215.2,380.2 209.0,385.4C202.8,390.6 198.6,393.6 192.4,397.8C186.2,402.0 178.2,407.2 171.6,410.3C165.0,413.4 157.1,416.2 152.9,416.6C148.7,417.0 145.6,414.8 146.6,412.4Z" fill="none" stroke="#2e0b03" stroke-width="1.2"/>
<path d="M126.3,421.8C127.1,421.1 130.9,421.4 135.0,420.5C139.1,419.6 145.6,417.9 150.8,416.6C156.0,415.4 160.8,414.2 166.0,413.0C171.2,411.8 175.9,410.5 182.0,409.3C188.1,408.1 197.5,406.5 202.8,405.8C208.1,405.1 210.9,405.1 214.0,405.2C217.1,405.3 219.2,405.9 221.5,406.6C223.8,407.3 226.4,408.2 228.0,409.5C229.6,410.8 230.7,412.6 230.9,414.5C231.1,416.4 230.2,419.1 229.0,421.0C227.8,422.9 226.8,424.8 223.6,426.0C220.4,427.2 215.2,427.8 210.0,428.5C204.8,429.2 198.8,429.4 192.4,430.0C186.0,430.6 177.0,432.0 171.6,432.2C166.2,432.4 163.5,431.5 160.0,431.0C156.5,430.5 154.5,429.8 150.8,429.0C147.1,428.2 141.5,427.2 138.0,426.5C134.5,425.8 131.9,425.3 130.0,424.5C128.1,423.7 125.5,422.5 126.3,421.8Z" fill="#d6d238"/>
<g clip-path="url(#ch)"><path d="M140.0,423.0C139.3,421.9 147.3,421.1 152.0,420.0C156.7,418.9 162.7,417.7 168.0,416.5C173.3,415.3 178.2,414.2 184.0,413.0C189.8,411.8 197.8,410.2 203.0,409.5C208.2,408.8 211.7,408.4 215.0,408.6C218.3,408.8 221.1,409.4 223.0,410.5C224.9,411.6 226.7,413.2 226.5,415.0C226.3,416.8 224.8,419.8 222.0,421.5C219.2,423.2 215.0,424.1 210.0,425.0C205.0,425.9 198.3,426.2 192.0,426.8C185.7,427.4 178.0,428.6 172.0,428.5C166.0,428.4 161.3,427.4 156.0,426.5C150.7,425.6 140.7,424.1 140.0,423.0Z" fill="#e9e7a0" filter="url(#b2)"/></g>
<path d="M126.3,421.8C127.1,421.1 130.9,421.4 135.0,420.5C139.1,419.6 145.6,417.9 150.8,416.6C156.0,415.4 160.8,414.2 166.0,413.0C171.2,411.8 175.9,410.5 182.0,409.3C188.1,408.1 197.5,406.5 202.8,405.8C208.1,405.1 210.9,405.1 214.0,405.2C217.1,405.3 219.2,405.9 221.5,406.6C223.8,407.3 226.4,408.2 228.0,409.5C229.6,410.8 230.7,412.6 230.9,414.5C231.1,416.4 230.2,419.1 229.0,421.0C227.8,422.9 226.8,424.8 223.6,426.0C220.4,427.2 215.2,427.8 210.0,428.5C204.8,429.2 198.8,429.4 192.4,430.0C186.0,430.6 177.0,432.0 171.6,432.2C166.2,432.4 163.5,431.5 160.0,431.0C156.5,430.5 154.5,429.8 150.8,429.0C147.1,428.2 141.5,427.2 138.0,426.5C134.5,425.8 131.9,425.3 130.0,424.5C128.1,423.7 125.5,422.5 126.3,421.8Z" fill="none" stroke="#3a340c" stroke-width="1.2"/>
<path d="M78.5,367.7C81.5,366.7 84.4,369.3 88.0,371.0C91.6,372.7 96.3,375.3 100.3,378.0C104.3,380.7 108.2,383.9 112.0,387.0C115.8,390.1 120.2,394.1 123.2,396.8C126.2,399.5 127.8,401.0 130.0,403.0C132.2,405.0 135.8,407.2 136.5,409.0C137.2,410.8 136.1,412.3 134.0,414.0C131.9,415.7 128.3,419.2 124.0,419.0C119.7,418.8 113.3,414.7 108.0,412.5C102.7,410.3 97.3,408.1 92.0,406.0C86.7,403.9 81.2,402.1 76.0,400.0C70.8,397.9 63.1,395.5 60.8,393.7C58.5,391.9 60.5,391.8 62.0,389.0C63.5,386.2 67.2,380.6 70.0,377.0C72.8,373.4 75.5,368.7 78.5,367.7Z" fill="#8e240a"/>
<g clip-path="url(#cp)">
<path d="M84,384 L104,396 L128,411" stroke="#c23812" stroke-width="4.5" fill="none" filter="url(#b1)" opacity="0.9"/>
<path d="M78.5,367.7 L60.8,393.7" stroke="#5a1606" stroke-width="5" fill="none" filter="url(#b1)"/>
<path d="M76.5,370.6 Q106.4,389.2 134.7,410.1" stroke="#461004" stroke-width="1.5" fill="none" opacity="0.9"/>
<path d="M74.6,373.5 Q104.5,391.5 133.3,411.2" stroke="#461004" stroke-width="1.5" fill="none" opacity="0.9"/>
<path d="M72.6,376.4 Q102.6,393.9 132.0,412.3" stroke="#461004" stroke-width="1.5" fill="none" opacity="0.9"/>
<path d="M70.6,379.3 Q100.8,396.2 130.7,413.4" stroke="#461004" stroke-width="1.5" fill="none" opacity="0.9"/>
<path d="M68.7,382.1 Q98.9,398.5 129.3,414.6" stroke="#461004" stroke-width="1.5" fill="none" opacity="0.9"/>
<path d="M66.7,385.0 Q97.0,400.9 128.0,415.7" stroke="#461004" stroke-width="1.5" fill="none" opacity="0.9"/>
<path d="M64.7,387.9 Q95.1,403.2 126.7,416.8" stroke="#461004" stroke-width="1.5" fill="none" opacity="0.9"/>
<path d="M62.8,390.8 Q93.3,405.5 125.3,417.9" stroke="#461004" stroke-width="1.5" fill="none" opacity="0.9"/>
</g>
<path d="M78.5,367.7C81.5,366.7 84.4,369.3 88.0,371.0C91.6,372.7 96.3,375.3 100.3,378.0C104.3,380.7 108.2,383.9 112.0,387.0C115.8,390.1 120.2,394.1 123.2,396.8C126.2,399.5 127.8,401.0 130.0,403.0C132.2,405.0 135.8,407.2 136.5,409.0C137.2,410.8 136.1,412.3 134.0,414.0C131.9,415.7 128.3,419.2 124.0,419.0C119.7,418.8 113.3,414.7 108.0,412.5C102.7,410.3 97.3,408.1 92.0,406.0C86.7,403.9 81.2,402.1 76.0,400.0C70.8,397.9 63.1,395.5 60.8,393.7C58.5,391.9 60.5,391.8 62.0,389.0C63.5,386.2 67.2,380.6 70.0,377.0C72.8,373.4 75.5,368.7 78.5,367.7Z" fill="none" stroke="#2a0a03" stroke-width="1.9" stroke-linejoin="round"/>
<path d="M128,409 Q134,407.5 139,410.5 Q143,413 147,411.5 Q149.5,410 152,407.5 L156,411.5 Q150,417.5 143,420.5 Q133,422.5 125.5,419 Q124.5,414 128,409Z" fill="#36200e"/>
<path d="M149.4,232.5 L150.0,233.2 L150.7,234.2 L151.6,235.4 L152.6,236.6 L153.7,238.0 L154.8,239.4 L156.0,240.7 L157.1,241.9 L158.1,243.1 L159.2,244.2 L160.2,245.3 L161.3,246.5 L162.5,247.6 L163.8,248.8 L165.2,250.0 L166.8,251.2 L168.6,252.5 L170.7,253.8 L172.8,255.2 L175.1,256.6 L177.4,257.9 L179.6,259.3 L181.9,260.5 L184.0,261.6 L186.0,262.5 L187.9,263.3 L189.7,264.0 L191.6,264.7 L193.4,265.3 L195.3,265.9 L197.3,266.5 L199.5,267.0 L201.7,267.6 L204.1,268.1 L206.5,268.7 L209.0,269.2 L211.6,269.7 L214.3,270.1 L217.0,270.5 L219.7,270.9 L222.6,271.2 L225.5,271.5 L228.5,271.7 L231.5,271.9 L234.6,272.1 L237.6,272.3 L240.8,272.5 L243.9,272.7 L247.1,272.9 L250.5,273.1 L253.9,273.3 L257.4,273.5 L260.8,273.7 L264.1,273.9 L267.1,274.1 L269.9,274.2 L272.5,274.2 L275.0,274.2 L277.4,274.2 L279.6,274.1 L281.6,274.0 L283.3,274.0 L284.8,273.9 L286.0,273.8 L286.0,273.0 L284.8,272.8 L283.4,272.7 L281.6,272.5 L279.7,272.3 L277.5,272.1 L275.1,271.9 L272.7,271.7 L270.1,271.4 L267.3,271.2 L264.3,271.0 L261.0,270.7 L257.6,270.4 L254.2,270.2 L250.7,269.9 L247.3,269.6 L244.1,269.3 L241.0,269.1 L237.9,268.8 L234.8,268.6 L231.8,268.3 L228.8,268.1 L225.8,267.8 L223.0,267.5 L220.3,267.1 L217.6,266.7 L214.9,266.3 L212.3,265.8 L209.8,265.3 L207.4,264.7 L205.0,264.2 L202.7,263.6 L200.5,263.0 L198.5,262.4 L196.6,261.8 L194.8,261.2 L193.1,260.6 L191.4,259.9 L189.7,259.2 L187.9,258.3 L186.0,257.4 L184.0,256.4 L181.8,255.3 L179.6,254.1 L177.3,252.8 L175.1,251.5 L173.0,250.2 L171.0,248.9 L169.2,247.8 L167.6,246.8 L166.1,245.8 L164.8,244.8 L163.6,243.9 L162.4,243.0 L161.2,242.0 L160.1,241.1 L158.9,240.1 L157.7,239.0 L156.5,237.8 L155.3,236.5 L154.2,235.3 L153.1,234.1 L152.1,233.1 L151.2,232.2 L150.6,231.5Z" fill="#621508"/>
<path d="M86.0,122.0C86.3,125.0 87.4,133.7 88.0,140.0C88.6,146.3 88.8,152.5 89.5,160.0C90.2,167.5 90.9,177.3 92.5,185.0C94.1,192.7 96.1,199.2 99.0,206.0C101.9,212.8 108.2,222.7 110.0,226.0" stroke="#e6e6c8" stroke-width="5" fill="none" filter="url(#b1)"/>
<g clip-path="url(#cb)">
<path d="M80.3,99.6 L80.1,100.2 L79.9,100.9 L79.7,101.8 L79.4,102.8 L79.2,103.9 L78.9,105.1 L78.6,106.3 L78.3,107.5 L78.1,108.9 L77.8,110.3 L77.6,111.9 L77.3,113.4 L77.0,115.0 L76.8,116.6 L76.5,118.1 L76.2,119.5 L76.0,120.6 L75.8,121.5 L75.5,122.4 L75.3,123.3 L75.0,124.5 L74.7,125.9 L74.4,127.6 L74.2,129.7 L74.0,132.4 L73.8,135.5 L73.6,138.9 L73.5,142.6 L73.3,146.3 L73.1,150.0 L72.9,153.5 L72.7,156.8 L72.5,159.9 L72.2,162.9 L71.8,165.9 L71.5,168.9 L71.2,171.8 L71.0,174.6 L70.8,177.3 L70.7,179.9 L70.7,182.4 L70.7,184.6 L70.8,186.7 L71.0,188.7 L71.2,190.6 L71.5,192.5 L71.8,194.5 L72.2,196.6 L72.6,198.7 L73.1,200.9 L73.6,203.0 L74.2,205.2 L74.9,207.4 L75.6,209.6 L76.3,211.8 L77.1,214.1 L78.0,216.4 L78.9,218.8 L79.9,221.2 L80.9,223.6 L82.0,226.0 L83.0,228.3 L84.1,230.5 L85.1,232.5 L86.0,234.3 L86.9,236.0 L87.7,237.7 L88.6,239.2 L89.6,240.7 L90.5,242.2 L91.6,243.7 L92.8,245.2 L94.1,246.8 L95.5,248.3 L96.9,249.8 L98.4,251.2 L99.9,252.6 L101.5,254.0 L103.1,255.4 L104.7,256.8 L106.3,258.1 L107.9,259.3 L109.5,260.6 L111.2,261.8 L112.9,263.0 L114.8,264.3 L116.8,265.6 L119.1,267.0 L121.6,268.6 L124.4,270.3 L127.5,272.1 L130.6,273.9 L133.7,275.8 L136.8,277.5 L139.7,279.1 L142.3,280.6 L144.7,281.8 L147.0,283.0 L149.1,284.1 L151.2,285.1 L153.1,286.0 L155.0,286.9 L156.9,287.7 L158.7,288.5 L160.5,289.3 L162.2,289.9 L163.8,290.5 L165.4,291.1 L166.9,291.6 L168.3,292.0 L169.7,292.5 L170.9,292.9 L172.2,293.3 L173.4,293.8 L174.6,294.2 L175.7,294.6 L176.7,294.9 L177.6,295.3 L178.4,295.5 L179.0,295.7 L181.0,290.3 L180.4,290.0 L179.7,289.7 L178.8,289.4 L177.8,289.0 L176.7,288.5 L175.5,288.1 L174.3,287.6 L173.1,287.1 L171.8,286.6 L170.4,286.1 L169.0,285.6 L167.6,285.0 L166.1,284.5 L164.6,283.9 L163.0,283.2 L161.3,282.5 L159.6,281.7 L157.9,280.8 L156.1,280.0 L154.2,279.0 L152.2,278.0 L150.2,276.9 L148.0,275.7 L145.7,274.4 L143.1,273.0 L140.3,271.4 L137.3,269.6 L134.2,267.8 L131.1,266.0 L128.1,264.2 L125.4,262.5 L122.9,261.0 L120.8,259.6 L118.8,258.3 L117.0,257.1 L115.4,255.9 L113.8,254.8 L112.3,253.6 L110.8,252.5 L109.3,251.2 L107.7,249.9 L106.2,248.6 L104.7,247.3 L103.3,246.0 L101.9,244.7 L100.6,243.4 L99.4,242.1 L98.2,240.8 L97.1,239.5 L96.2,238.2 L95.3,237.0 L94.4,235.7 L93.6,234.3 L92.8,232.8 L91.9,231.2 L90.9,229.5 L89.9,227.6 L88.9,225.5 L87.8,223.3 L86.8,221.0 L85.7,218.7 L84.7,216.4 L83.8,214.1 L82.9,211.9 L82.1,209.8 L81.3,207.7 L80.6,205.6 L80.0,203.5 L79.4,201.5 L78.8,199.4 L78.3,197.4 L77.8,195.4 L77.5,193.5 L77.1,191.6 L76.9,189.9 L76.6,188.1 L76.5,186.3 L76.4,184.4 L76.3,182.3 L76.3,180.1 L76.4,177.6 L76.6,175.1 L76.8,172.3 L77.1,169.5 L77.4,166.5 L77.7,163.5 L78.0,160.4 L78.3,157.2 L78.5,153.9 L78.7,150.3 L78.9,146.6 L79.0,142.8 L79.2,139.2 L79.4,135.8 L79.6,132.8 L79.8,130.3 L80.0,128.3 L80.2,126.8 L80.4,125.7 L80.7,124.8 L80.9,123.9 L81.2,123.0 L81.5,121.9 L81.8,120.5 L82.0,119.0 L82.2,117.5 L82.5,115.9 L82.7,114.3 L83.0,112.7 L83.2,111.2 L83.4,109.8 L83.7,108.5 L83.8,107.2 L84.0,106.0 L84.2,104.8 L84.3,103.7 L84.4,102.7 L84.6,101.8 L84.7,101.0 L84.7,100.4Z" fill="#d0181a" stroke="#1d1608" stroke-width="1.15" stroke-linejoin="round" />
</g>
<path d="M88.5,138.0C88.6,141.2 88.7,150.0 89.0,157.0C89.3,164.0 89.8,173.5 90.5,180.0C91.2,186.5 92.0,190.5 93.5,196.0C95.0,201.5 97.2,207.5 99.5,213.0C101.8,218.5 104.9,224.3 107.5,229.0C110.1,233.7 111.9,237.8 115.0,241.0C118.1,244.2 121.5,245.4 126.0,248.0C130.5,250.6 136.7,253.7 142.0,256.5C147.3,259.3 152.3,262.1 158.0,265.0C163.7,267.9 170.3,271.3 176.0,274.0C181.7,276.7 189.3,279.8 192.0,281.0" stroke="#1d1608" stroke-width="0.9" fill="none"/>
<path d="M83.0,129.0C83.0,130.8 83.1,135.3 83.2,140.0C83.3,144.7 83.3,150.3 83.5,157.0C83.7,163.7 83.9,173.5 84.5,180.0C85.1,186.5 85.6,190.3 87.0,196.0C88.4,201.7 90.7,208.2 93.0,214.0C95.3,219.8 98.3,225.8 101.0,231.0C103.7,236.2 105.8,241.7 109.0,245.0C112.2,248.3 115.3,248.6 120.0,251.0C124.7,253.4 131.6,256.6 137.0,259.3C142.4,262.1 147.1,264.8 152.6,267.5C158.1,270.2 164.9,273.5 170.0,275.8C175.1,278.1 179.8,280.1 183.0,281.5C186.2,282.9 188.0,283.6 189.0,284.0" stroke="#1d1608" stroke-width="6.9" fill="none" stroke-linecap="butt"/>
<path d="M83.0,129.0C83.0,130.8 83.1,135.3 83.2,140.0C83.3,144.7 83.3,150.3 83.5,157.0C83.7,163.7 83.9,173.5 84.5,180.0C85.1,186.5 85.6,190.3 87.0,196.0C88.4,201.7 90.7,208.2 93.0,214.0C95.3,219.8 98.3,225.8 101.0,231.0C103.7,236.2 105.8,241.7 109.0,245.0C112.2,248.3 115.3,248.6 120.0,251.0C124.7,253.4 131.6,256.6 137.0,259.3C142.4,262.1 147.1,264.8 152.6,267.5C158.1,270.2 164.9,273.5 170.0,275.8C175.1,278.1 179.8,280.1 183.0,281.5C186.2,282.9 188.0,283.6 189.0,284.0" stroke="#d8e21e" stroke-width="4.6" fill="none" stroke-linecap="butt"/>
<path d="M84.4,61.5C84.2,62.4 83.9,63.9 83.5,67.0C83.1,70.1 82.4,75.8 82.0,80.0C81.6,84.2 81.3,88.2 81.3,92.0C81.3,95.8 81.5,100.0 82.0,103.0C82.5,106.0 83.4,106.2 84.5,110.0C85.6,113.8 87.5,120.7 88.8,126.0C90.0,131.3 91.0,136.8 92.0,142.0C93.0,147.2 93.4,150.7 94.6,157.0C95.8,163.3 97.1,172.5 99.2,180.0C101.3,187.5 103.7,195.8 107.2,202.0C110.7,208.2 114.5,212.5 120.0,217.0C125.5,221.5 133.2,224.7 140.0,229.0C146.8,233.3 153.5,238.8 161.0,243.0C168.5,247.2 178.3,251.4 185.0,254.0C191.7,256.6 198.3,258.0 201.0,258.8" stroke="#1d1608" stroke-width="8.5" fill="none" stroke-linecap="round"/>
<path d="M84.4,61.5C84.2,62.4 83.9,63.9 83.5,67.0C83.1,70.1 82.4,75.8 82.0,80.0C81.6,84.2 81.3,88.2 81.3,92.0C81.3,95.8 81.5,100.0 82.0,103.0C82.5,106.0 83.4,106.2 84.5,110.0C85.6,113.8 87.5,120.7 88.8,126.0C90.0,131.3 91.0,136.8 92.0,142.0C93.0,147.2 93.4,150.7 94.6,157.0C95.8,163.3 97.1,172.5 99.2,180.0C101.3,187.5 103.7,195.8 107.2,202.0C110.7,208.2 114.5,212.5 120.0,217.0C125.5,221.5 133.2,224.7 140.0,229.0C146.8,233.3 153.5,238.8 161.0,243.0C168.5,247.2 178.3,251.4 185.0,254.0C191.7,256.6 198.3,258.0 201.0,258.8" stroke="#d0181a" stroke-width="6.2" fill="none" stroke-linecap="round"/>
<path d="M82.3,99.0C82.1,100.2 81.7,103.3 81.2,106.0C80.8,108.7 80.0,112.5 79.6,115.0C79.2,117.5 78.8,120.0 78.6,121.0" stroke="#d0181a" stroke-width="4.6" fill="none" stroke-linecap="round"/>
<path d="M198,255.4 L230,257.4 L262,256.4 L279.5,257 L262,259 L230,261.4 L200,262.2Z" fill="#b41410" stroke="#560b05" stroke-width="0.6"/>
<path d="M198,257 L246,258.6" stroke="#e0201c" stroke-width="2.6"/>
<path d="M92.6,65.5C92.3,66.9 91.4,69.9 91.0,74.0C90.6,78.1 90.2,85.3 90.0,90.0C89.8,94.7 89.4,98.3 89.7,102.0C90.0,105.7 91.0,108.5 92.0,112.0C93.0,115.5 94.7,119.3 96.0,123.0C97.3,126.7 98.6,130.2 99.6,134.0C100.6,137.8 101.2,142.2 101.8,146.0C102.4,149.8 102.1,151.3 103.3,157.0C104.5,162.7 107.2,173.5 109.2,180.0C111.2,186.5 112.8,191.2 115.6,196.0C118.4,200.8 121.9,205.2 126.0,209.0C130.1,212.8 135.7,215.8 140.0,219.0C144.3,222.2 148.5,225.5 152.0,228.0C155.5,230.5 157.0,231.9 161.0,234.0C165.0,236.1 170.8,238.4 176.0,240.5C181.2,242.6 186.7,245.0 192.0,246.6C197.3,248.2 202.9,249.0 208.0,249.8C213.1,250.6 217.6,250.9 222.6,251.2C227.6,251.5 235.4,251.7 238.0,251.8" stroke="#1d1608" stroke-width="7.9" fill="none" stroke-linecap="round"/>
<path d="M92.6,65.5C92.3,66.9 91.4,69.9 91.0,74.0C90.6,78.1 90.2,85.3 90.0,90.0C89.8,94.7 89.4,98.3 89.7,102.0C90.0,105.7 91.0,108.5 92.0,112.0C93.0,115.5 94.7,119.3 96.0,123.0C97.3,126.7 98.6,130.2 99.6,134.0C100.6,137.8 101.2,142.2 101.8,146.0C102.4,149.8 102.1,151.3 103.3,157.0C104.5,162.7 107.2,173.5 109.2,180.0C111.2,186.5 112.8,191.2 115.6,196.0C118.4,200.8 121.9,205.2 126.0,209.0C130.1,212.8 135.7,215.8 140.0,219.0C144.3,222.2 148.5,225.5 152.0,228.0C155.5,230.5 157.0,231.9 161.0,234.0C165.0,236.1 170.8,238.4 176.0,240.5C181.2,242.6 186.7,245.0 192.0,246.6C197.3,248.2 202.9,249.0 208.0,249.8C213.1,250.6 217.6,250.9 222.6,251.2C227.6,251.5 235.4,251.7 238.0,251.8" stroke="#d8e21e" stroke-width="5.6" fill="none" stroke-linecap="round"/>
<path d="M96.5,67.0C96.2,68.7 95.4,72.8 95.0,77.0C94.6,81.2 94.1,87.5 94.0,92.0C93.9,96.5 93.8,100.0 94.5,104.0C95.2,108.0 96.6,112.0 98.0,116.0C99.4,120.0 101.5,123.0 103.0,128.0C104.5,133.0 105.8,140.7 107.0,146.0C108.2,151.3 108.6,154.3 110.0,160.0C111.4,165.7 113.5,174.2 115.5,180.0C117.5,185.8 119.2,190.7 122.0,195.0C124.8,199.3 128.0,202.6 132.0,206.0C136.0,209.4 141.7,212.7 146.0,215.5C150.3,218.3 156.0,221.8 158.0,223.0" stroke="#1d1608" stroke-width="0.9" fill="none"/>
</g>
<g filter="url(#soft2)">
<path d="M164.8,236.9 L165.2,236.4 L165.9,235.8 L166.6,235.0 L167.3,234.2 L167.9,233.3 L168.3,232.4 L168.5,231.4 L168.7,230.6 L168.7,229.7 L168.8,228.8 L168.7,228.0 L168.6,227.1 L168.4,226.2 L168.3,225.5 L168.1,225.0 L167.9,225.0 L167.8,225.5 L167.7,226.3 L167.7,227.1 L167.6,227.9 L167.5,228.7 L167.3,229.5 L167.1,230.2 L166.8,231.0 L166.5,231.6 L166.2,232.2 L165.7,232.8 L165.0,233.5 L164.3,234.2 L163.6,234.7 L163.2,235.1Z M172.9,239.0 L172.5,238.5 L172.1,237.9 L171.6,237.1 L171.2,236.4 L170.9,235.7 L170.7,235.1 L170.6,234.5 L170.6,233.8 L170.6,233.0 L170.6,232.4 L170.6,231.6 L170.8,230.9 L170.9,230.2 L171.1,229.5 L171.1,229.0 L170.9,229.0 L170.6,229.4 L170.3,230.0 L170.0,230.7 L169.7,231.4 L169.5,232.2 L169.3,232.9 L169.2,233.7 L169.1,234.5 L169.1,235.3 L169.3,236.2 L169.6,237.1 L170.0,238.0 L170.5,238.8 L170.9,239.5 L171.1,240.0Z M175.8,241.9 L176.2,241.5 L176.9,240.9 L177.7,240.1 L178.5,239.3 L179.2,238.5 L179.7,237.6 L180.1,236.7 L180.4,235.8 L180.7,234.9 L180.9,234.1 L181.0,233.2 L181.1,232.2 L181.2,231.3 L181.2,230.6 L181.1,230.0 L180.9,230.0 L180.7,230.5 L180.5,231.2 L180.2,232.0 L179.9,232.9 L179.6,233.7 L179.3,234.4 L178.9,235.2 L178.5,236.0 L178.1,236.6 L177.6,237.3 L177.0,237.9 L176.3,238.5 L175.5,239.1 L174.8,239.7 L174.2,240.1Z M187.2,244.7 L187.0,244.1 L186.7,243.2 L186.5,242.1 L186.3,241.1 L186.2,240.2 L186.2,239.4 L186.2,238.5 L186.4,237.7 L186.6,236.8 L186.8,235.9 L187.0,235.1 L187.3,234.2 L187.7,233.3 L188.0,232.6 L188.1,232.1 L187.9,231.9 L187.5,232.4 L187.0,233.0 L186.5,233.8 L186.0,234.6 L185.5,235.5 L185.2,236.3 L184.8,237.2 L184.5,238.2 L184.3,239.2 L184.1,240.2 L184.2,241.3 L184.3,242.5 L184.5,243.7 L184.7,244.6 L184.8,245.3Z M190.6,247.4 L191.1,247.0 L191.9,246.5 L192.8,245.9 L193.6,245.1 L194.4,244.3 L194.9,243.5 L195.3,242.6 L195.6,241.7 L195.8,240.9 L196.0,240.0 L196.2,239.1 L196.2,238.2 L196.2,237.3 L196.2,236.5 L196.1,236.0 L195.9,236.0 L195.7,236.5 L195.6,237.2 L195.4,238.1 L195.2,238.9 L194.9,239.7 L194.6,240.4 L194.2,241.2 L193.9,241.9 L193.4,242.6 L193.0,243.1 L192.4,243.7 L191.6,244.2 L190.7,244.8 L189.9,245.3 L189.4,245.6Z M199.1,249.0 L199.3,248.3 L199.7,247.4 L200.1,246.3 L200.4,245.2 L200.7,244.1 L200.8,243.0 L200.8,242.0 L200.7,241.0 L200.6,240.0 L200.4,239.1 L200.2,238.1 L199.9,237.1 L199.6,236.2 L199.4,235.5 L199.1,235.0 L198.9,235.0 L198.9,235.6 L199.0,236.4 L199.0,237.3 L199.1,238.3 L199.1,239.2 L199.1,240.1 L199.1,241.0 L199.0,241.9 L198.9,242.8 L198.7,243.7 L198.4,244.6 L198.0,245.6 L197.6,246.6 L197.2,247.4 L196.9,248.0Z M206.8,250.9 L207.3,250.5 L208.0,249.8 L208.9,249.0 L209.8,248.2 L210.6,247.2 L211.1,246.3 L211.5,245.3 L211.8,244.3 L212.0,243.4 L212.2,242.4 L212.3,241.4 L212.3,240.4 L212.3,239.4 L212.2,238.6 L212.1,238.0 L211.9,238.0 L211.7,238.6 L211.6,239.4 L211.4,240.3 L211.2,241.3 L210.9,242.1 L210.6,243.0 L210.3,243.8 L209.9,244.6 L209.5,245.4 L209.0,246.0 L208.3,246.7 L207.5,247.4 L206.6,248.1 L205.8,248.6 L205.2,249.1Z M212.9,250.5 L212.5,250.0 L212.0,249.3 L211.5,248.5 L211.1,247.7 L210.8,247.1 L210.6,246.4 L210.5,245.7 L210.5,245.0 L210.5,244.2 L210.5,243.5 L210.6,242.8 L210.7,242.0 L210.9,241.2 L211.1,240.5 L211.1,240.0 L210.9,240.0 L210.6,240.4 L210.3,241.0 L210.0,241.7 L209.7,242.5 L209.4,243.3 L209.3,244.1 L209.1,244.9 L209.1,245.8 L209.1,246.6 L209.2,247.5 L209.5,248.5 L210.0,249.4 L210.4,250.3 L210.9,251.0 L211.1,251.5Z M219.9,252.3 L220.4,251.7 L221.0,250.9 L221.8,250.0 L222.6,248.9 L223.3,247.9 L223.7,246.8 L224.0,245.7 L224.2,244.7 L224.3,243.6 L224.4,242.6 L224.5,241.6 L224.4,240.5 L224.3,239.5 L224.2,238.6 L224.1,238.0 L223.9,238.0 L223.7,238.6 L223.6,239.5 L223.5,240.5 L223.4,241.5 L223.1,242.4 L222.9,243.3 L222.6,244.3 L222.3,245.2 L221.9,246.1 L221.5,246.9 L220.9,247.7 L220.2,248.6 L219.4,249.4 L218.6,250.2 L218.1,250.7Z M228.0,251.7 L227.8,251.1 L227.5,250.3 L227.2,249.4 L226.9,248.5 L226.7,247.7 L226.6,246.9 L226.6,246.1 L226.6,245.3 L226.6,244.5 L226.6,243.7 L226.7,242.9 L226.8,242.1 L227.0,241.2 L227.1,240.5 L227.1,240.0 L226.9,240.0 L226.6,240.4 L226.3,241.1 L226.0,241.8 L225.7,242.7 L225.4,243.5 L225.3,244.3 L225.1,245.2 L225.0,246.1 L224.9,247.0 L224.9,247.9 L225.0,248.9 L225.3,250.0 L225.6,250.9 L225.8,251.8 L226.0,252.3Z M233.8,252.8 L234.2,252.3 L234.8,251.7 L235.5,251.0 L236.3,250.1 L236.9,249.3 L237.3,248.4 L237.6,247.5 L237.8,246.6 L238.0,245.8 L238.1,244.9 L238.2,244.0 L238.3,243.1 L238.2,242.3 L238.2,241.5 L238.1,241.0 L237.9,241.0 L237.7,241.5 L237.6,242.2 L237.4,243.0 L237.2,243.9 L237.0,244.6 L236.7,245.4 L236.4,246.2 L236.1,246.9 L235.7,247.6 L235.3,248.2 L234.8,248.9 L234.1,249.6 L233.4,250.2 L232.7,250.8 L232.2,251.2Z" fill="#14100a" stroke="#14100a" stroke-width="1.9" stroke-linejoin="round"/>
<path d="M164.8,236.9 L165.2,236.4 L165.9,235.8 L166.6,235.0 L167.3,234.2 L167.9,233.3 L168.3,232.4 L168.5,231.4 L168.7,230.6 L168.7,229.7 L168.8,228.8 L168.7,228.0 L168.6,227.1 L168.4,226.2 L168.3,225.5 L168.1,225.0 L167.9,225.0 L167.8,225.5 L167.7,226.3 L167.7,227.1 L167.6,227.9 L167.5,228.7 L167.3,229.5 L167.1,230.2 L166.8,231.0 L166.5,231.6 L166.2,232.2 L165.7,232.8 L165.0,233.5 L164.3,234.2 L163.6,234.7 L163.2,235.1Z M172.9,239.0 L172.5,238.5 L172.1,237.9 L171.6,237.1 L171.2,236.4 L170.9,235.7 L170.7,235.1 L170.6,234.5 L170.6,233.8 L170.6,233.0 L170.6,232.4 L170.6,231.6 L170.8,230.9 L170.9,230.2 L171.1,229.5 L171.1,229.0 L170.9,229.0 L170.6,229.4 L170.3,230.0 L170.0,230.7 L169.7,231.4 L169.5,232.2 L169.3,232.9 L169.2,233.7 L169.1,234.5 L169.1,235.3 L169.3,236.2 L169.6,237.1 L170.0,238.0 L170.5,238.8 L170.9,239.5 L171.1,240.0Z M175.8,241.9 L176.2,241.5 L176.9,240.9 L177.7,240.1 L178.5,239.3 L179.2,238.5 L179.7,237.6 L180.1,236.7 L180.4,235.8 L180.7,234.9 L180.9,234.1 L181.0,233.2 L181.1,232.2 L181.2,231.3 L181.2,230.6 L181.1,230.0 L180.9,230.0 L180.7,230.5 L180.5,231.2 L180.2,232.0 L179.9,232.9 L179.6,233.7 L179.3,234.4 L178.9,235.2 L178.5,236.0 L178.1,236.6 L177.6,237.3 L177.0,237.9 L176.3,238.5 L175.5,239.1 L174.8,239.7 L174.2,240.1Z M187.2,244.7 L187.0,244.1 L186.7,243.2 L186.5,242.1 L186.3,241.1 L186.2,240.2 L186.2,239.4 L186.2,238.5 L186.4,237.7 L186.6,236.8 L186.8,235.9 L187.0,235.1 L187.3,234.2 L187.7,233.3 L188.0,232.6 L188.1,232.1 L187.9,231.9 L187.5,232.4 L187.0,233.0 L186.5,233.8 L186.0,234.6 L185.5,235.5 L185.2,236.3 L184.8,237.2 L184.5,238.2 L184.3,239.2 L184.1,240.2 L184.2,241.3 L184.3,242.5 L184.5,243.7 L184.7,244.6 L184.8,245.3Z M190.6,247.4 L191.1,247.0 L191.9,246.5 L192.8,245.9 L193.6,245.1 L194.4,244.3 L194.9,243.5 L195.3,242.6 L195.6,241.7 L195.8,240.9 L196.0,240.0 L196.2,239.1 L196.2,238.2 L196.2,237.3 L196.2,236.5 L196.1,236.0 L195.9,236.0 L195.7,236.5 L195.6,237.2 L195.4,238.1 L195.2,238.9 L194.9,239.7 L194.6,240.4 L194.2,241.2 L193.9,241.9 L193.4,242.6 L193.0,243.1 L192.4,243.7 L191.6,244.2 L190.7,244.8 L189.9,245.3 L189.4,245.6Z M199.1,249.0 L199.3,248.3 L199.7,247.4 L200.1,246.3 L200.4,245.2 L200.7,244.1 L200.8,243.0 L200.8,242.0 L200.7,241.0 L200.6,240.0 L200.4,239.1 L200.2,238.1 L199.9,237.1 L199.6,236.2 L199.4,235.5 L199.1,235.0 L198.9,235.0 L198.9,235.6 L199.0,236.4 L199.0,237.3 L199.1,238.3 L199.1,239.2 L199.1,240.1 L199.1,241.0 L199.0,241.9 L198.9,242.8 L198.7,243.7 L198.4,244.6 L198.0,245.6 L197.6,246.6 L197.2,247.4 L196.9,248.0Z M206.8,250.9 L207.3,250.5 L208.0,249.8 L208.9,249.0 L209.8,248.2 L210.6,247.2 L211.1,246.3 L211.5,245.3 L211.8,244.3 L212.0,243.4 L212.2,242.4 L212.3,241.4 L212.3,240.4 L212.3,239.4 L212.2,238.6 L212.1,238.0 L211.9,238.0 L211.7,238.6 L211.6,239.4 L211.4,240.3 L211.2,241.3 L210.9,242.1 L210.6,243.0 L210.3,243.8 L209.9,244.6 L209.5,245.4 L209.0,246.0 L208.3,246.7 L207.5,247.4 L206.6,248.1 L205.8,248.6 L205.2,249.1Z M212.9,250.5 L212.5,250.0 L212.0,249.3 L211.5,248.5 L211.1,247.7 L210.8,247.1 L210.6,246.4 L210.5,245.7 L210.5,245.0 L210.5,244.2 L210.5,243.5 L210.6,242.8 L210.7,242.0 L210.9,241.2 L211.1,240.5 L211.1,240.0 L210.9,240.0 L210.6,240.4 L210.3,241.0 L210.0,241.7 L209.7,242.5 L209.4,243.3 L209.3,244.1 L209.1,244.9 L209.1,245.8 L209.1,246.6 L209.2,247.5 L209.5,248.5 L210.0,249.4 L210.4,250.3 L210.9,251.0 L211.1,251.5Z M219.9,252.3 L220.4,251.7 L221.0,250.9 L221.8,250.0 L222.6,248.9 L223.3,247.9 L223.7,246.8 L224.0,245.7 L224.2,244.7 L224.3,243.6 L224.4,242.6 L224.5,241.6 L224.4,240.5 L224.3,239.5 L224.2,238.6 L224.1,238.0 L223.9,238.0 L223.7,238.6 L223.6,239.5 L223.5,240.5 L223.4,241.5 L223.1,242.4 L222.9,243.3 L222.6,244.3 L222.3,245.2 L221.9,246.1 L221.5,246.9 L220.9,247.7 L220.2,248.6 L219.4,249.4 L218.6,250.2 L218.1,250.7Z M228.0,251.7 L227.8,251.1 L227.5,250.3 L227.2,249.4 L226.9,248.5 L226.7,247.7 L226.6,246.9 L226.6,246.1 L226.6,245.3 L226.6,244.5 L226.6,243.7 L226.7,242.9 L226.8,242.1 L227.0,241.2 L227.1,240.5 L227.1,240.0 L226.9,240.0 L226.6,240.4 L226.3,241.1 L226.0,241.8 L225.7,242.7 L225.4,243.5 L225.3,244.3 L225.1,245.2 L225.0,246.1 L224.9,247.0 L224.9,247.9 L225.0,248.9 L225.3,250.0 L225.6,250.9 L225.8,251.8 L226.0,252.3Z M233.8,252.8 L234.2,252.3 L234.8,251.7 L235.5,251.0 L236.3,250.1 L236.9,249.3 L237.3,248.4 L237.6,247.5 L237.8,246.6 L238.0,245.8 L238.1,244.9 L238.2,244.0 L238.3,243.1 L238.2,242.3 L238.2,241.5 L238.1,241.0 L237.9,241.0 L237.7,241.5 L237.6,242.2 L237.4,243.0 L237.2,243.9 L237.0,244.6 L236.7,245.4 L236.4,246.2 L236.1,246.9 L235.7,247.6 L235.3,248.2 L234.8,248.9 L234.1,249.6 L233.4,250.2 L232.7,250.8 L232.2,251.2Z" fill="#d6e02a" stroke="#d6e02a" stroke-width="0.3" stroke-linejoin="round"/>
<path d="M158.0,236.0 L157.0,230.0" stroke="#e21a22" stroke-width="3.2" stroke-linecap="round"/>
<path d="M158.0,229.1 Q151.6,224.0 146.5,218.5 Q150.5,225.0 156.0,230.9 Z" fill="#e21a22" stroke="#e21a22" stroke-width="0.5" stroke-linejoin="round"/>
<path d="M151.5,223.9 l-5.0,0.5" stroke="#e21a22" stroke-width="1.1" stroke-linecap="round"/>
<path d="M158.3,229.4 Q155.3,222.5 150.0,214.7 Q153.9,223.1 155.7,230.6 Z" fill="#e21a22" stroke="#e21a22" stroke-width="0.5" stroke-linejoin="round"/>
<path d="M153.4,222.2 l-4.9,-1.1" stroke="#e21a22" stroke-width="1.1" stroke-linecap="round"/>
<path d="M158.4,229.8 Q155.4,220.3 154.7,210.8 Q153.9,220.4 155.6,230.2 Z" fill="#e21a22" stroke="#e21a22" stroke-width="0.5" stroke-linejoin="round"/>
<path d="M155.6,218.1 l-4.3,-2.5" stroke="#e21a22" stroke-width="1.1" stroke-linecap="round"/>
<path d="M158.4,230.3 Q159.4,220.2 160.5,211.2 Q157.9,220.0 155.6,229.7 Z" fill="#e21a22" stroke="#e21a22" stroke-width="0.5" stroke-linejoin="round"/>
<path d="M158.7,220.9 l4.5,-2.2" stroke="#e21a22" stroke-width="1.1" stroke-linecap="round"/>
<path d="M158.2,230.7 Q161.5,221.3 166.5,212.2 Q160.2,220.6 155.8,229.3 Z" fill="#e21a22" stroke="#e21a22" stroke-width="0.5" stroke-linejoin="round"/>
<path d="M161.9,220.8 l4.9,-0.8" stroke="#e21a22" stroke-width="1.1" stroke-linecap="round"/>
<path d="M168.5,240.5 L169.0,232.0" stroke="#e21a22" stroke-width="2.6" stroke-linecap="round"/>
<path d="M170.0,231.7 Q168.5,224.0 164.5,218.0 Q167.4,224.4 168.0,232.3 Z" fill="#e21a22" stroke="#e21a22" stroke-width="0.5" stroke-linejoin="round"/>
<path d="M165.9,222.2 l-4.7,-1.6" stroke="#e21a22" stroke-width="1.1" stroke-linecap="round"/>
<path d="M170.1,232.1 Q169.0,223.6 170.0,216.2 Q167.8,223.5 167.9,231.9 Z" fill="#e21a22" stroke="#e21a22" stroke-width="0.5" stroke-linejoin="round"/>
<path d="M169.5,224.9 l4.2,-2.7" stroke="#e21a22" stroke-width="1.1" stroke-linecap="round"/>
<path d="M170.0,232.5 Q173.6,226.1 175.5,220.0 Q172.5,225.5 168.0,231.5 Z" fill="#e21a22" stroke="#e21a22" stroke-width="0.5" stroke-linejoin="round"/>
<path d="M172.3,226.0 l-2.1,-4.5" stroke="#e21a22" stroke-width="1.1" stroke-linecap="round"/>
<path d="M180.0,246.5 L182.6,234.5" stroke="#e21a22" stroke-width="3.2" stroke-linecap="round"/>
<path d="M183.7,233.7 Q176.5,226.3 171.5,219.5 Q175.3,227.2 181.5,235.3 Z" fill="#e21a22" stroke="#e21a22" stroke-width="0.5" stroke-linejoin="round"/>
<path d="M177.3,227.3 l1.4,-4.8" stroke="#e21a22" stroke-width="1.1" stroke-linecap="round"/>
<path d="M183.9,234.0 Q180.5,223.9 175.3,215.0 Q179.0,224.4 181.3,235.0 Z" fill="#e21a22" stroke="#e21a22" stroke-width="0.5" stroke-linejoin="round"/>
<path d="M178.2,222.7 l2.7,-4.2" stroke="#e21a22" stroke-width="1.1" stroke-linecap="round"/>
<path d="M184.0,234.3 Q183.0,224.5 180.0,213.6 Q181.5,224.7 181.2,234.7 Z" fill="#e21a22" stroke="#e21a22" stroke-width="0.5" stroke-linejoin="round"/>
<path d="M181.3,224.1 l-4.3,-2.5" stroke="#e21a22" stroke-width="1.1" stroke-linecap="round"/>
<path d="M184.0,234.6 Q184.7,225.1 184.4,216.0 Q183.2,225.0 181.2,234.4 Z" fill="#e21a22" stroke="#e21a22" stroke-width="0.5" stroke-linejoin="round"/>
<path d="M183.4,225.8 l-3.7,-3.4" stroke="#e21a22" stroke-width="1.1" stroke-linecap="round"/>
<path d="M183.9,235.1 Q186.0,226.5 190.0,219.4 Q184.7,225.9 181.3,233.9 Z" fill="#e21a22" stroke="#e21a22" stroke-width="0.5" stroke-linejoin="round"/>
<path d="M192.0,252.5 L193.0,240.0" stroke="#e21a22" stroke-width="2.6" stroke-linecap="round"/>
<path d="M194.1,239.7 Q190.7,232.7 188.5,225.0 Q189.5,233.0 191.9,240.3 Z" fill="#e21a22" stroke="#e21a22" stroke-width="0.5" stroke-linejoin="round"/>
<path d="M190.0,230.2 l3.0,-4.0" stroke="#e21a22" stroke-width="1.1" stroke-linecap="round"/>
<path d="M194.1,240.1 Q193.6,230.4 194.0,221.8 Q192.4,230.3 191.9,239.9 Z" fill="#e21a22" stroke="#e21a22" stroke-width="0.5" stroke-linejoin="round"/>
<path d="M193.5,231.5 l-3.8,-3.2" stroke="#e21a22" stroke-width="1.1" stroke-linecap="round"/>
<path d="M194.0,240.4 Q196.5,233.5 199.0,226.0 Q195.4,233.0 192.0,239.6 Z" fill="#e21a22" stroke="#e21a22" stroke-width="0.5" stroke-linejoin="round"/>
<path d="M195.8,233.4 l-2.5,-4.3" stroke="#e21a22" stroke-width="1.1" stroke-linecap="round"/>
<path d="M203.0,257.5 L204.0,242.5" stroke="#e21a22" stroke-width="3.2" stroke-linecap="round"/>
<path d="M205.1,241.7 Q199.9,233.3 192.5,226.0 Q198.6,234.2 202.9,243.3 Z" fill="#e21a22" stroke="#e21a22" stroke-width="0.5" stroke-linejoin="round"/>
<path d="M198.1,234.0 l1.6,-4.7" stroke="#e21a22" stroke-width="1.1" stroke-linecap="round"/>
<path d="M205.3,242.0 Q200.4,231.0 196.5,221.4 Q198.9,231.5 202.7,243.0 Z" fill="#e21a22" stroke="#e21a22" stroke-width="0.5" stroke-linejoin="round"/>
<path d="M199.6,230.2 l-4.8,-1.5" stroke="#e21a22" stroke-width="1.1" stroke-linecap="round"/>
<path d="M205.4,242.4 Q202.5,230.1 201.5,219.0 Q201.0,230.3 202.6,242.6 Z" fill="#e21a22" stroke="#e21a22" stroke-width="0.5" stroke-linejoin="round"/>
<path d="M202.7,230.0 l-4.3,-2.6" stroke="#e21a22" stroke-width="1.1" stroke-linecap="round"/>
<path d="M205.4,242.7 Q206.5,231.8 207.0,219.6 Q205.0,231.6 202.6,242.3 Z" fill="#e21a22" stroke="#e21a22" stroke-width="0.5" stroke-linejoin="round"/>
<path d="M205.6,230.1 l4.4,-2.5" stroke="#e21a22" stroke-width="1.1" stroke-linecap="round"/>
<path d="M205.3,243.1 Q210.3,232.0 213.0,222.5 Q208.9,231.4 202.7,241.9 Z" fill="#e21a22" stroke="#e21a22" stroke-width="0.5" stroke-linejoin="round"/>
<path d="M209.1,231.1 l4.9,-1.1" stroke="#e21a22" stroke-width="1.1" stroke-linecap="round"/>
<path d="M218.0,258.8 L220.0,243.5" stroke="#e21a22" stroke-width="3.2" stroke-linecap="round"/>
<path d="M221.3,243.0 Q216.5,234.8 212.5,225.0 Q215.1,235.3 218.7,244.0 Z" fill="#e21a22" stroke="#e21a22" stroke-width="0.5" stroke-linejoin="round"/>
<path d="M215.6,232.6 l-4.8,-1.3" stroke="#e21a22" stroke-width="1.1" stroke-linecap="round"/>
<path d="M221.4,243.3 Q220.0,232.5 216.5,221.0 Q218.5,232.7 218.6,243.7 Z" fill="#e21a22" stroke="#e21a22" stroke-width="0.5" stroke-linejoin="round"/>
<path d="M217.7,228.9 l3.5,-3.6" stroke="#e21a22" stroke-width="1.1" stroke-linecap="round"/>
<path d="M221.4,243.6 Q221.1,232.1 221.5,220.0 Q219.6,232.0 218.6,243.4 Z" fill="#e21a22" stroke="#e21a22" stroke-width="0.5" stroke-linejoin="round"/>
<path d="M221.3,243.9 Q224.9,232.3 226.5,221.0 Q223.4,231.9 218.7,243.1 Z" fill="#e21a22" stroke="#e21a22" stroke-width="0.5" stroke-linejoin="round"/>
<path d="M221.2,244.2 Q227.0,234.5 231.0,224.5 Q225.7,233.7 218.8,242.8 Z" fill="#e21a22" stroke="#e21a22" stroke-width="0.5" stroke-linejoin="round"/>
<path d="M226.0,233.1 l-2.0,-4.6" stroke="#e21a22" stroke-width="1.1" stroke-linecap="round"/>
<path d="M237.0,258.5 L239.0,244.5" stroke="#e21a22" stroke-width="3.0" stroke-linecap="round"/>
<path d="M240.2,244.0 Q236.4,234.3 232.0,226.0 Q235.2,234.8 237.8,245.0 Z" fill="#e21a22" stroke="#e21a22" stroke-width="0.5" stroke-linejoin="round"/>
<path d="M234.1,231.6 l2.7,-4.2" stroke="#e21a22" stroke-width="1.1" stroke-linecap="round"/>
<path d="M240.3,244.4 Q238.9,233.0 236.5,222.0 Q237.7,233.1 237.7,244.6 Z" fill="#e21a22" stroke="#e21a22" stroke-width="0.5" stroke-linejoin="round"/>
<path d="M237.5,231.1 l3.6,-3.4" stroke="#e21a22" stroke-width="1.1" stroke-linecap="round"/>
<path d="M240.3,244.6 Q240.8,233.2 241.5,221.6 Q239.5,233.0 237.7,244.4 Z" fill="#e21a22" stroke="#e21a22" stroke-width="0.5" stroke-linejoin="round"/>
<path d="M240.4,231.2 l4.3,-2.5" stroke="#e21a22" stroke-width="1.1" stroke-linecap="round"/>
<path d="M240.2,244.9 Q243.6,234.4 246.5,224.0 Q242.4,234.0 237.8,244.1 Z" fill="#e21a22" stroke="#e21a22" stroke-width="0.5" stroke-linejoin="round"/>
<path d="M243.7,231.7 l4.8,-1.4" stroke="#e21a22" stroke-width="1.1" stroke-linecap="round"/>
<path d="M228.0,259.0 L229.5,247.0" stroke="#e21a22" stroke-width="2.4" stroke-linecap="round"/>
<path d="M230.5,246.7 Q228.7,239.6 225.5,232.0 Q227.6,239.9 228.5,247.3 Z" fill="#e21a22" stroke="#e21a22" stroke-width="0.5" stroke-linejoin="round"/>
<path d="M226.8,236.9 l3.1,-3.9" stroke="#e21a22" stroke-width="1.1" stroke-linecap="round"/>
<path d="M230.5,247.0 Q229.8,238.3 230.0,229.0 Q228.7,238.3 228.5,247.0 Z" fill="#e21a22" stroke="#e21a22" stroke-width="0.5" stroke-linejoin="round"/>
<path d="M229.7,238.1 l4.1,-2.9" stroke="#e21a22" stroke-width="1.1" stroke-linecap="round"/>
<path d="M230.4,247.3 Q232.9,239.6 234.5,232.0 Q231.9,239.2 228.6,246.7 Z" fill="#e21a22" stroke="#e21a22" stroke-width="0.5" stroke-linejoin="round"/>
<path d="M238.0,254.0C239.3,252.2 243.0,246.8 246.0,243.0C249.0,239.2 252.7,234.7 256.0,231.0C259.3,227.3 262.5,224.2 266.0,221.0C269.5,217.8 275.2,213.1 277.0,211.5" stroke="#e63c56" stroke-width="1.4" fill="none" stroke-linecap="round"/>
<path d="M246.0,243.0 l0.0,-7.5" stroke="#e63c56" stroke-width="0.9" stroke-linecap="round"/>
<path d="M246.0,243.0 l7.0,-2.5" stroke="#e63c56" stroke-width="0.9" stroke-linecap="round"/>
<path d="M256.0,231.0 l0.0,-7.5" stroke="#e63c56" stroke-width="0.9" stroke-linecap="round"/>
<path d="M256.0,231.0 l7.0,-2.5" stroke="#e63c56" stroke-width="0.9" stroke-linecap="round"/>
<path d="M266.0,221.0 l0.0,-7.5" stroke="#e63c56" stroke-width="0.9" stroke-linecap="round"/>
<path d="M266.0,221.0 l7.0,-2.5" stroke="#e63c56" stroke-width="0.9" stroke-linecap="round"/>
<path d="M250.0,238.0C252.0,236.3 257.7,231.3 262.0,228.0C266.3,224.7 271.5,220.8 276.0,218.0C280.5,215.2 286.8,212.6 289.0,211.5" stroke="#e63c56" stroke-width="1.4" fill="none" stroke-linecap="round"/>
<path d="M262.0,228.0 l0.0,-7.5" stroke="#e63c56" stroke-width="0.9" stroke-linecap="round"/>
<path d="M262.0,228.0 l7.0,-2.5" stroke="#e63c56" stroke-width="0.9" stroke-linecap="round"/>
<path d="M276.0,218.0 l0.0,-7.5" stroke="#e63c56" stroke-width="0.9" stroke-linecap="round"/>
<path d="M276.0,218.0 l7.0,-2.5" stroke="#e63c56" stroke-width="0.9" stroke-linecap="round"/>
<path d="M244.0,246.0C245.3,245.0 249.0,241.7 252.0,240.0C255.0,238.3 260.3,236.7 262.0,236.0" stroke="#e63c56" stroke-width="1.4" fill="none" stroke-linecap="round"/>
<path d="M252.0,240.0 l0.0,-7.5" stroke="#e63c56" stroke-width="0.9" stroke-linecap="round"/>
<path d="M252.0,240.0 l7.0,-2.5" stroke="#e63c56" stroke-width="0.9" stroke-linecap="round"/>
<path d="M138.0,213.8C138.8,214.9 140.7,218.1 142.5,220.5C144.3,222.9 146.8,226.0 149.0,228.5C151.2,231.0 153.7,233.3 156.0,235.5C158.3,237.7 161.8,240.5 163.0,241.5" stroke="#591307" stroke-width="2.7" fill="none" stroke-linecap="round"/>
<path d="M141,219.5 l-2.5,-1.5 M146,225.5 l-3,-1" stroke="#591307" stroke-width="1.3" stroke-linecap="round"/>
<path d="M238.3,253.3 L239.2,253.1 L240.4,252.9 L241.9,252.6 L243.5,252.3 L245.3,252.0 L247.0,251.6 L248.8,251.3 L250.4,250.8 L251.9,250.4 L253.5,250.0 L255.0,249.5 L256.5,249.0 L258.0,248.4 L259.5,247.9 L261.0,247.4 L262.5,246.9 L264.0,246.4 L265.6,246.0 L267.1,245.5 L268.7,245.0 L270.2,244.5 L271.8,244.0 L273.2,243.5 L274.7,243.0 L276.0,242.4 L277.3,241.8 L278.6,241.1 L279.7,240.5 L280.8,239.9 L281.9,239.3 L282.9,238.8 L283.8,238.3 L284.8,237.9 L285.7,237.5 L286.5,237.2 L287.3,236.9 L288.0,236.7 L288.7,236.5 L289.5,236.4 L290.2,236.3 L291.1,236.4 L292.2,236.5 L293.4,236.7 L294.6,237.0 L295.8,237.3 L296.9,237.6 L297.9,237.8 L298.6,238.0 L299.4,231.6 L298.7,231.6 L297.8,231.6 L296.6,231.5 L295.3,231.5 L293.9,231.4 L292.5,231.4 L291.1,231.5 L289.8,231.7 L288.6,231.9 L287.6,232.2 L286.6,232.6 L285.7,233.0 L284.8,233.5 L284.0,233.9 L283.1,234.4 L282.2,234.9 L281.1,235.4 L280.1,236.1 L279.0,236.7 L277.9,237.4 L276.8,238.0 L275.7,238.7 L274.5,239.3 L273.3,239.8 L272.0,240.4 L270.7,240.9 L269.2,241.4 L267.7,241.9 L266.1,242.4 L264.6,242.9 L263.0,243.4 L261.5,243.9 L260.0,244.4 L258.5,245.0 L257.0,245.5 L255.5,246.0 L254.0,246.6 L252.5,247.1 L251.1,247.5 L249.6,248.0 L248.1,248.3 L246.4,248.7 L244.7,249.1 L243.0,249.4 L241.4,249.7 L239.9,249.9 L238.7,250.2 L237.7,250.3Z M252.0,249.3 L252.9,248.4 L254.2,247.1 L255.8,245.6 L257.3,243.9 L258.5,242.2 L259.4,240.5 L260.1,238.7 L260.6,237.0 L261.0,235.2 L261.4,233.5 L261.6,231.7 L261.8,229.9 L261.8,228.1 L261.8,226.6 L261.7,225.5 L261.5,225.5 L261.2,226.5 L261.0,228.0 L260.7,229.7 L260.3,231.5 L259.8,233.1 L259.3,234.7 L258.7,236.3 L258.0,237.9 L257.3,239.4 L256.4,240.8 L255.2,242.2 L253.8,243.7 L252.3,245.1 L250.9,246.3 L250.0,247.1Z M258.1,246.7 L258.2,246.1 L258.2,245.2 L258.4,244.3 L258.5,243.4 L258.8,242.6 L259.0,241.9 L259.3,241.2 L259.7,240.4 L260.1,239.7 L260.5,239.1 L260.9,238.4 L261.4,237.7 L261.9,237.1 L262.3,236.5 L262.6,236.1 L262.4,235.9 L262.0,236.2 L261.4,236.6 L260.8,237.1 L260.1,237.7 L259.5,238.3 L259.0,239.0 L258.5,239.6 L257.9,240.4 L257.4,241.1 L257.0,241.9 L256.7,242.9 L256.4,243.9 L256.2,244.9 L256.0,245.7 L255.9,246.3Z M264.5,245.1 L265.3,244.3 L266.4,243.2 L267.7,241.9 L269.0,240.5 L270.1,239.1 L271.0,237.6 L271.6,236.1 L272.2,234.6 L272.7,233.1 L273.2,231.7 L273.5,230.1 L273.8,228.5 L274.0,227.0 L274.1,225.8 L274.1,224.8 L273.9,224.8 L273.5,225.6 L273.1,226.9 L272.7,228.3 L272.2,229.8 L271.6,231.1 L271.0,232.5 L270.4,233.8 L269.7,235.2 L268.9,236.4 L268.1,237.6 L267.0,238.8 L265.8,240.0 L264.5,241.2 L263.3,242.2 L262.5,242.9Z M271.1,242.2 L271.2,241.6 L271.3,240.8 L271.4,239.9 L271.6,239.1 L271.8,238.3 L272.1,237.7 L272.4,237.0 L272.8,236.4 L273.3,235.8 L273.7,235.2 L274.2,234.6 L274.7,234.0 L275.3,233.5 L275.8,233.0 L276.1,232.6 L275.9,232.4 L275.5,232.6 L274.9,232.9 L274.2,233.4 L273.5,233.8 L272.9,234.4 L272.3,234.9 L271.7,235.5 L271.1,236.1 L270.6,236.8 L270.1,237.6 L269.7,238.5 L269.5,239.5 L269.2,240.4 L269.1,241.2 L268.9,241.8Z M275.4,241.2 L275.8,240.8 L276.2,240.1 L276.8,239.4 L277.3,238.5 L277.8,237.7 L278.1,236.8 L278.4,236.0 L278.6,235.2 L278.8,234.4 L279.0,233.6 L279.1,232.8 L279.1,232.0 L279.2,231.2 L279.2,230.5 L279.1,230.0 L278.9,230.0 L278.7,230.4 L278.5,231.1 L278.2,231.8 L278.0,232.6 L277.7,233.3 L277.4,234.0 L277.1,234.7 L276.8,235.4 L276.4,236.1 L276.0,236.7 L275.6,237.3 L275.0,238.1 L274.5,238.7 L273.9,239.3 L273.6,239.8Z M282.0,238.6 L282.8,237.9 L283.9,236.8 L285.2,235.6 L286.5,234.2 L287.7,232.8 L288.5,231.4 L289.2,229.9 L289.8,228.4 L290.4,227.0 L290.8,225.6 L291.2,224.1 L291.5,222.5 L291.7,221.0 L291.9,219.7 L291.9,218.8 L291.7,218.8 L291.3,219.6 L290.9,220.8 L290.4,222.2 L289.9,223.7 L289.3,225.0 L288.7,226.3 L288.0,227.6 L287.3,228.9 L286.5,230.1 L285.6,231.3 L284.6,232.4 L283.3,233.6 L282.0,234.7 L280.8,235.7 L280.0,236.4Z M286.6,235.5 L286.6,235.0 L286.6,234.3 L286.6,233.5 L286.6,232.7 L286.7,232.0 L286.8,231.4 L287.0,230.8 L287.2,230.1 L287.5,229.5 L287.7,228.9 L288.0,228.3 L288.3,227.6 L288.7,227.0 L288.9,226.5 L289.1,226.1 L288.9,225.9 L288.6,226.2 L288.1,226.6 L287.6,227.1 L287.1,227.7 L286.7,228.3 L286.3,228.9 L285.9,229.5 L285.5,230.1 L285.2,230.9 L284.9,231.6 L284.7,232.5 L284.6,233.4 L284.5,234.2 L284.5,235.0 L284.4,235.5Z M290.1,234.8 L290.8,234.0 L291.8,232.8 L293.0,231.5 L294.1,230.0 L295.1,228.5 L295.9,227.1 L296.5,225.6 L297.1,224.1 L297.6,222.6 L298.0,221.2 L298.4,219.7 L298.7,218.2 L298.9,216.7 L299.1,215.4 L299.1,214.5 L298.9,214.5 L298.5,215.3 L298.1,216.5 L297.6,217.9 L297.0,219.3 L296.5,220.7 L295.9,222.0 L295.2,223.3 L294.5,224.7 L293.8,225.9 L293.0,227.1 L292.0,228.4 L290.9,229.7 L289.7,230.9 L288.6,232.0 L287.9,232.8Z M246.8,250.3 L247.1,249.8 L247.5,249.3 L248.1,248.6 L248.6,247.8 L249.1,247.1 L249.4,246.3 L249.6,245.5 L249.8,244.8 L250.0,244.0 L250.1,243.3 L250.2,242.6 L250.2,241.8 L250.2,241.1 L250.2,240.5 L250.1,240.0 L249.9,240.0 L249.7,240.4 L249.6,241.0 L249.4,241.7 L249.2,242.4 L249.0,243.1 L248.8,243.7 L248.6,244.4 L248.3,245.0 L248.0,245.7 L247.6,246.2 L247.2,246.8 L246.7,247.4 L246.1,248.0 L245.6,248.6 L245.2,248.9Z M265.2,244.6 L265.4,245.0 L265.6,245.5 L266.0,246.2 L266.4,247.0 L266.8,247.6 L267.3,248.1 L267.8,248.6 L268.3,249.1 L268.8,249.5 L269.3,249.8 L269.9,250.2 L270.5,250.5 L271.1,250.8 L271.6,251.0 L271.9,251.1 L272.1,250.9 L271.8,250.6 L271.4,250.3 L270.9,249.9 L270.4,249.5 L270.0,249.1 L269.5,248.6 L269.1,248.2 L268.7,247.7 L268.4,247.2 L268.1,246.8 L267.8,246.2 L267.5,245.6 L267.2,244.9 L267.0,244.3 L266.8,243.8Z M279.2,239.4 L279.4,239.8 L279.8,240.5 L280.2,241.2 L280.6,241.9 L281.1,242.6 L281.7,243.2 L282.3,243.7 L282.9,244.1 L283.5,244.5 L284.1,244.9 L284.7,245.2 L285.4,245.5 L286.0,245.8 L286.5,246.0 L286.9,246.1 L287.1,245.9 L286.7,245.6 L286.3,245.3 L285.7,244.9 L285.1,244.5 L284.6,244.1 L284.1,243.6 L283.6,243.2 L283.2,242.7 L282.7,242.2 L282.4,241.7 L282.0,241.1 L281.6,240.4 L281.3,239.7 L281.0,239.1 L280.8,238.6Z M299.3,235.3 L299.6,233.5 L300.1,231.0 L300.6,228.1 L301.3,225.2 L302.0,222.6 L302.9,220.2 L303.8,217.8 L304.9,215.4 L306.0,213.1 L307.1,210.9 L308.2,208.6 L309.5,206.4 L310.7,204.2 L311.8,202.4 L312.5,201.1 L312.3,200.9 L311.4,202.1 L310.1,203.8 L308.7,205.8 L307.2,208.0 L305.8,210.2 L304.6,212.3 L303.3,214.6 L302.1,217.0 L301.0,219.4 L300.0,221.9 L299.1,224.6 L298.3,227.6 L297.7,230.5 L297.1,233.0 L296.7,234.7Z M299.1,235.6 L299.7,234.5 L300.5,232.8 L301.5,230.9 L302.5,228.9 L303.3,227.0 L303.9,225.1 L304.4,223.3 L304.9,221.4 L305.3,219.6 L305.7,217.8 L306.0,216.0 L306.2,214.1 L306.4,212.3 L306.6,210.8 L306.6,209.7 L306.4,209.7 L306.1,210.7 L305.7,212.2 L305.3,213.9 L304.8,215.7 L304.3,217.5 L303.8,219.2 L303.2,220.9 L302.6,222.7 L301.9,224.5 L301.2,226.2 L300.4,227.9 L299.4,229.8 L298.4,231.7 L297.5,233.3 L296.9,234.4Z M299.2,235.9 L300.0,234.9 L301.1,233.4 L302.4,231.8 L303.8,230.1 L305.1,228.6 L306.4,227.2 L307.7,225.9 L309.1,224.6 L310.5,223.4 L311.9,222.3 L313.3,221.1 L314.8,219.9 L316.2,218.8 L317.4,217.8 L318.3,217.1 L318.1,216.9 L317.1,217.4 L315.8,218.1 L314.2,219.0 L312.5,219.9 L310.9,220.9 L309.4,222.0 L307.9,223.1 L306.3,224.3 L304.8,225.5 L303.3,226.8 L301.8,228.3 L300.3,230.0 L298.9,231.7 L297.7,233.1 L296.8,234.1Z M298.5,236.2 L299.4,235.8 L300.5,235.2 L301.9,234.5 L303.3,233.8 L304.6,233.0 L305.8,232.2 L306.9,231.4 L307.9,230.5 L309.0,229.6 L309.9,228.8 L310.9,227.8 L311.8,226.9 L312.7,225.9 L313.4,225.1 L313.9,224.5 L313.7,224.3 L313.1,224.7 L312.2,225.4 L311.2,226.1 L310.1,226.9 L309.0,227.7 L308.0,228.4 L306.9,229.1 L305.8,229.8 L304.6,230.5 L303.5,231.1 L302.3,231.8 L300.9,232.4 L299.5,233.0 L298.3,233.5 L297.5,233.8Z M298.4,236.4 L299.5,236.1 L301.0,235.5 L302.8,235.0 L304.6,234.4 L306.3,233.9 L307.9,233.4 L309.6,233.0 L311.2,232.7 L312.8,232.3 L314.4,232.0 L316.0,231.6 L317.6,231.3 L319.2,231.0 L320.5,230.7 L321.4,230.4 L321.4,230.2 L320.4,230.1 L319.1,230.1 L317.5,230.2 L315.8,230.2 L314.1,230.3 L312.5,230.5 L310.9,230.7 L309.2,230.9 L307.5,231.1 L305.8,231.4 L304.0,231.8 L302.0,232.3 L300.2,232.8 L298.7,233.3 L297.6,233.6Z M297.6,236.5 L298.8,236.7 L300.5,237.1 L302.4,237.5 L304.4,238.0 L306.3,238.3 L308.1,238.5 L309.9,238.7 L311.7,238.9 L313.5,239.0 L315.2,239.1 L316.9,239.1 L318.7,239.1 L320.4,239.1 L321.8,239.0 L322.8,238.9 L322.8,238.7 L321.8,238.5 L320.4,238.2 L318.8,238.0 L317.0,237.7 L315.4,237.4 L313.7,237.2 L312.0,236.9 L310.2,236.6 L308.5,236.2 L306.8,235.8 L305.0,235.4 L303.0,234.9 L301.2,234.4 L299.5,233.9 L298.4,233.5Z M297.4,236.3 L298.4,236.7 L299.7,237.2 L301.2,237.8 L302.7,238.5 L304.1,239.2 L305.4,239.9 L306.6,240.6 L307.9,241.4 L309.1,242.2 L310.2,243.0 L311.4,243.7 L312.6,244.6 L313.7,245.4 L314.7,246.1 L315.4,246.6 L315.6,246.4 L315.1,245.7 L314.3,244.8 L313.3,243.8 L312.2,242.8 L311.2,241.7 L310.1,240.8 L309.0,239.9 L307.8,238.9 L306.6,238.0 L305.3,237.1 L303.9,236.3 L302.3,235.5 L300.8,234.8 L299.5,234.2 L298.6,233.7Z M296.9,235.7 L297.6,236.7 L298.6,238.0 L299.7,239.6 L301.0,241.2 L302.2,242.7 L303.5,243.9 L304.8,245.0 L306.2,246.1 L307.5,247.2 L308.9,248.2 L310.3,249.1 L311.7,250.0 L313.1,250.8 L314.3,251.5 L315.2,251.9 L315.4,251.7 L314.6,251.0 L313.6,250.2 L312.3,249.2 L311.0,248.1 L309.7,247.0 L308.6,246.0 L307.3,244.8 L306.1,243.6 L305.0,242.4 L303.9,241.2 L302.8,239.8 L301.7,238.2 L300.6,236.6 L299.7,235.2 L299.1,234.3Z M296.9,235.4 L297.3,236.4 L297.8,237.7 L298.4,239.3 L299.1,240.9 L299.8,242.4 L300.6,243.8 L301.5,245.1 L302.3,246.4 L303.2,247.6 L304.1,248.7 L305.0,249.9 L306.0,251.0 L306.9,252.1 L307.8,253.0 L308.4,253.6 L308.6,253.4 L308.2,252.7 L307.5,251.7 L306.7,250.5 L305.9,249.2 L305.2,248.0 L304.4,246.8 L303.7,245.5 L303.0,244.2 L302.3,242.9 L301.7,241.6 L301.1,240.1 L300.5,238.5 L299.9,236.9 L299.4,235.6 L299.1,234.6Z M296.9,235.6 L297.5,236.5 L298.3,237.9 L299.2,239.5 L300.1,241.1 L300.7,242.6 L301.2,244.0 L301.7,245.6 L302.0,247.1 L302.3,248.6 L302.6,250.1 L302.8,251.6 L303.0,253.2 L303.1,254.8 L303.2,256.1 L303.4,257.0 L303.6,257.0 L303.7,256.1 L303.8,254.8 L303.9,253.2 L304.0,251.6 L303.9,250.0 L303.8,248.4 L303.6,246.8 L303.4,245.2 L303.1,243.5 L302.6,241.9 L302.0,240.2 L301.2,238.5 L300.3,236.8 L299.6,235.4 L299.1,234.4Z M297.0,234.5 L296.8,235.0 L296.4,235.8 L295.9,236.7 L295.4,237.6 L295.0,238.6 L294.8,239.5 L294.6,240.5 L294.5,241.4 L294.4,242.3 L294.3,243.1 L294.3,244.0 L294.3,244.9 L294.4,245.8 L294.5,246.5 L294.6,247.0 L294.8,247.0 L295.0,246.5 L295.1,245.8 L295.2,244.9 L295.3,244.1 L295.5,243.3 L295.7,242.5 L295.9,241.6 L296.2,240.8 L296.4,240.0 L296.8,239.3 L297.1,238.5 L297.6,237.6 L298.1,236.8 L298.6,236.1 L299.0,235.5Z M299.1,234.9 L299.0,234.2 L298.8,233.2 L298.6,232.1 L298.4,230.9 L298.1,229.8 L297.8,228.8 L297.4,227.8 L296.9,226.9 L296.5,225.9 L296.0,225.1 L295.5,224.2 L295.0,223.4 L294.5,222.6 L294.0,221.9 L293.6,221.4 L293.4,221.6 L293.6,222.1 L293.9,222.9 L294.2,223.8 L294.6,224.7 L294.9,225.6 L295.3,226.5 L295.6,227.4 L295.9,228.3 L296.1,229.3 L296.3,230.2 L296.5,231.2 L296.7,232.4 L296.8,233.5 L296.9,234.4 L296.9,235.1Z" fill="#14100a" stroke="#14100a" stroke-width="2.1" stroke-linejoin="round"/>
<path d="M238.3,253.3 L239.2,253.1 L240.4,252.9 L241.9,252.6 L243.5,252.3 L245.3,252.0 L247.0,251.6 L248.8,251.3 L250.4,250.8 L251.9,250.4 L253.5,250.0 L255.0,249.5 L256.5,249.0 L258.0,248.4 L259.5,247.9 L261.0,247.4 L262.5,246.9 L264.0,246.4 L265.6,246.0 L267.1,245.5 L268.7,245.0 L270.2,244.5 L271.8,244.0 L273.2,243.5 L274.7,243.0 L276.0,242.4 L277.3,241.8 L278.6,241.1 L279.7,240.5 L280.8,239.9 L281.9,239.3 L282.9,238.8 L283.8,238.3 L284.8,237.9 L285.7,237.5 L286.5,237.2 L287.3,236.9 L288.0,236.7 L288.7,236.5 L289.5,236.4 L290.2,236.3 L291.1,236.4 L292.2,236.5 L293.4,236.7 L294.6,237.0 L295.8,237.3 L296.9,237.6 L297.9,237.8 L298.6,238.0 L299.4,231.6 L298.7,231.6 L297.8,231.6 L296.6,231.5 L295.3,231.5 L293.9,231.4 L292.5,231.4 L291.1,231.5 L289.8,231.7 L288.6,231.9 L287.6,232.2 L286.6,232.6 L285.7,233.0 L284.8,233.5 L284.0,233.9 L283.1,234.4 L282.2,234.9 L281.1,235.4 L280.1,236.1 L279.0,236.7 L277.9,237.4 L276.8,238.0 L275.7,238.7 L274.5,239.3 L273.3,239.8 L272.0,240.4 L270.7,240.9 L269.2,241.4 L267.7,241.9 L266.1,242.4 L264.6,242.9 L263.0,243.4 L261.5,243.9 L260.0,244.4 L258.5,245.0 L257.0,245.5 L255.5,246.0 L254.0,246.6 L252.5,247.1 L251.1,247.5 L249.6,248.0 L248.1,248.3 L246.4,248.7 L244.7,249.1 L243.0,249.4 L241.4,249.7 L239.9,249.9 L238.7,250.2 L237.7,250.3Z M252.0,249.3 L252.9,248.4 L254.2,247.1 L255.8,245.6 L257.3,243.9 L258.5,242.2 L259.4,240.5 L260.1,238.7 L260.6,237.0 L261.0,235.2 L261.4,233.5 L261.6,231.7 L261.8,229.9 L261.8,228.1 L261.8,226.6 L261.7,225.5 L261.5,225.5 L261.2,226.5 L261.0,228.0 L260.7,229.7 L260.3,231.5 L259.8,233.1 L259.3,234.7 L258.7,236.3 L258.0,237.9 L257.3,239.4 L256.4,240.8 L255.2,242.2 L253.8,243.7 L252.3,245.1 L250.9,246.3 L250.0,247.1Z M258.1,246.7 L258.2,246.1 L258.2,245.2 L258.4,244.3 L258.5,243.4 L258.8,242.6 L259.0,241.9 L259.3,241.2 L259.7,240.4 L260.1,239.7 L260.5,239.1 L260.9,238.4 L261.4,237.7 L261.9,237.1 L262.3,236.5 L262.6,236.1 L262.4,235.9 L262.0,236.2 L261.4,236.6 L260.8,237.1 L260.1,237.7 L259.5,238.3 L259.0,239.0 L258.5,239.6 L257.9,240.4 L257.4,241.1 L257.0,241.9 L256.7,242.9 L256.4,243.9 L256.2,244.9 L256.0,245.7 L255.9,246.3Z M264.5,245.1 L265.3,244.3 L266.4,243.2 L267.7,241.9 L269.0,240.5 L270.1,239.1 L271.0,237.6 L271.6,236.1 L272.2,234.6 L272.7,233.1 L273.2,231.7 L273.5,230.1 L273.8,228.5 L274.0,227.0 L274.1,225.8 L274.1,224.8 L273.9,224.8 L273.5,225.6 L273.1,226.9 L272.7,228.3 L272.2,229.8 L271.6,231.1 L271.0,232.5 L270.4,233.8 L269.7,235.2 L268.9,236.4 L268.1,237.6 L267.0,238.8 L265.8,240.0 L264.5,241.2 L263.3,242.2 L262.5,242.9Z M271.1,242.2 L271.2,241.6 L271.3,240.8 L271.4,239.9 L271.6,239.1 L271.8,238.3 L272.1,237.7 L272.4,237.0 L272.8,236.4 L273.3,235.8 L273.7,235.2 L274.2,234.6 L274.7,234.0 L275.3,233.5 L275.8,233.0 L276.1,232.6 L275.9,232.4 L275.5,232.6 L274.9,232.9 L274.2,233.4 L273.5,233.8 L272.9,234.4 L272.3,234.9 L271.7,235.5 L271.1,236.1 L270.6,236.8 L270.1,237.6 L269.7,238.5 L269.5,239.5 L269.2,240.4 L269.1,241.2 L268.9,241.8Z M275.4,241.2 L275.8,240.8 L276.2,240.1 L276.8,239.4 L277.3,238.5 L277.8,237.7 L278.1,236.8 L278.4,236.0 L278.6,235.2 L278.8,234.4 L279.0,233.6 L279.1,232.8 L279.1,232.0 L279.2,231.2 L279.2,230.5 L279.1,230.0 L278.9,230.0 L278.7,230.4 L278.5,231.1 L278.2,231.8 L278.0,232.6 L277.7,233.3 L277.4,234.0 L277.1,234.7 L276.8,235.4 L276.4,236.1 L276.0,236.7 L275.6,237.3 L275.0,238.1 L274.5,238.7 L273.9,239.3 L273.6,239.8Z M282.0,238.6 L282.8,237.9 L283.9,236.8 L285.2,235.6 L286.5,234.2 L287.7,232.8 L288.5,231.4 L289.2,229.9 L289.8,228.4 L290.4,227.0 L290.8,225.6 L291.2,224.1 L291.5,222.5 L291.7,221.0 L291.9,219.7 L291.9,218.8 L291.7,218.8 L291.3,219.6 L290.9,220.8 L290.4,222.2 L289.9,223.7 L289.3,225.0 L288.7,226.3 L288.0,227.6 L287.3,228.9 L286.5,230.1 L285.6,231.3 L284.6,232.4 L283.3,233.6 L282.0,234.7 L280.8,235.7 L280.0,236.4Z M286.6,235.5 L286.6,235.0 L286.6,234.3 L286.6,233.5 L286.6,232.7 L286.7,232.0 L286.8,231.4 L287.0,230.8 L287.2,230.1 L287.5,229.5 L287.7,228.9 L288.0,228.3 L288.3,227.6 L288.7,227.0 L288.9,226.5 L289.1,226.1 L288.9,225.9 L288.6,226.2 L288.1,226.6 L287.6,227.1 L287.1,227.7 L286.7,228.3 L286.3,228.9 L285.9,229.5 L285.5,230.1 L285.2,230.9 L284.9,231.6 L284.7,232.5 L284.6,233.4 L284.5,234.2 L284.5,235.0 L284.4,235.5Z M290.1,234.8 L290.8,234.0 L291.8,232.8 L293.0,231.5 L294.1,230.0 L295.1,228.5 L295.9,227.1 L296.5,225.6 L297.1,224.1 L297.6,222.6 L298.0,221.2 L298.4,219.7 L298.7,218.2 L298.9,216.7 L299.1,215.4 L299.1,214.5 L298.9,214.5 L298.5,215.3 L298.1,216.5 L297.6,217.9 L297.0,219.3 L296.5,220.7 L295.9,222.0 L295.2,223.3 L294.5,224.7 L293.8,225.9 L293.0,227.1 L292.0,228.4 L290.9,229.7 L289.7,230.9 L288.6,232.0 L287.9,232.8Z M246.8,250.3 L247.1,249.8 L247.5,249.3 L248.1,248.6 L248.6,247.8 L249.1,247.1 L249.4,246.3 L249.6,245.5 L249.8,244.8 L250.0,244.0 L250.1,243.3 L250.2,242.6 L250.2,241.8 L250.2,241.1 L250.2,240.5 L250.1,240.0 L249.9,240.0 L249.7,240.4 L249.6,241.0 L249.4,241.7 L249.2,242.4 L249.0,243.1 L248.8,243.7 L248.6,244.4 L248.3,245.0 L248.0,245.7 L247.6,246.2 L247.2,246.8 L246.7,247.4 L246.1,248.0 L245.6,248.6 L245.2,248.9Z M265.2,244.6 L265.4,245.0 L265.6,245.5 L266.0,246.2 L266.4,247.0 L266.8,247.6 L267.3,248.1 L267.8,248.6 L268.3,249.1 L268.8,249.5 L269.3,249.8 L269.9,250.2 L270.5,250.5 L271.1,250.8 L271.6,251.0 L271.9,251.1 L272.1,250.9 L271.8,250.6 L271.4,250.3 L270.9,249.9 L270.4,249.5 L270.0,249.1 L269.5,248.6 L269.1,248.2 L268.7,247.7 L268.4,247.2 L268.1,246.8 L267.8,246.2 L267.5,245.6 L267.2,244.9 L267.0,244.3 L266.8,243.8Z M279.2,239.4 L279.4,239.8 L279.8,240.5 L280.2,241.2 L280.6,241.9 L281.1,242.6 L281.7,243.2 L282.3,243.7 L282.9,244.1 L283.5,244.5 L284.1,244.9 L284.7,245.2 L285.4,245.5 L286.0,245.8 L286.5,246.0 L286.9,246.1 L287.1,245.9 L286.7,245.6 L286.3,245.3 L285.7,244.9 L285.1,244.5 L284.6,244.1 L284.1,243.6 L283.6,243.2 L283.2,242.7 L282.7,242.2 L282.4,241.7 L282.0,241.1 L281.6,240.4 L281.3,239.7 L281.0,239.1 L280.8,238.6Z M299.3,235.3 L299.6,233.5 L300.1,231.0 L300.6,228.1 L301.3,225.2 L302.0,222.6 L302.9,220.2 L303.8,217.8 L304.9,215.4 L306.0,213.1 L307.1,210.9 L308.2,208.6 L309.5,206.4 L310.7,204.2 L311.8,202.4 L312.5,201.1 L312.3,200.9 L311.4,202.1 L310.1,203.8 L308.7,205.8 L307.2,208.0 L305.8,210.2 L304.6,212.3 L303.3,214.6 L302.1,217.0 L301.0,219.4 L300.0,221.9 L299.1,224.6 L298.3,227.6 L297.7,230.5 L297.1,233.0 L296.7,234.7Z M299.1,235.6 L299.7,234.5 L300.5,232.8 L301.5,230.9 L302.5,228.9 L303.3,227.0 L303.9,225.1 L304.4,223.3 L304.9,221.4 L305.3,219.6 L305.7,217.8 L306.0,216.0 L306.2,214.1 L306.4,212.3 L306.6,210.8 L306.6,209.7 L306.4,209.7 L306.1,210.7 L305.7,212.2 L305.3,213.9 L304.8,215.7 L304.3,217.5 L303.8,219.2 L303.2,220.9 L302.6,222.7 L301.9,224.5 L301.2,226.2 L300.4,227.9 L299.4,229.8 L298.4,231.7 L297.5,233.3 L296.9,234.4Z M299.2,235.9 L300.0,234.9 L301.1,233.4 L302.4,231.8 L303.8,230.1 L305.1,228.6 L306.4,227.2 L307.7,225.9 L309.1,224.6 L310.5,223.4 L311.9,222.3 L313.3,221.1 L314.8,219.9 L316.2,218.8 L317.4,217.8 L318.3,217.1 L318.1,216.9 L317.1,217.4 L315.8,218.1 L314.2,219.0 L312.5,219.9 L310.9,220.9 L309.4,222.0 L307.9,223.1 L306.3,224.3 L304.8,225.5 L303.3,226.8 L301.8,228.3 L300.3,230.0 L298.9,231.7 L297.7,233.1 L296.8,234.1Z M298.5,236.2 L299.4,235.8 L300.5,235.2 L301.9,234.5 L303.3,233.8 L304.6,233.0 L305.8,232.2 L306.9,231.4 L307.9,230.5 L309.0,229.6 L309.9,228.8 L310.9,227.8 L311.8,226.9 L312.7,225.9 L313.4,225.1 L313.9,224.5 L313.7,224.3 L313.1,224.7 L312.2,225.4 L311.2,226.1 L310.1,226.9 L309.0,227.7 L308.0,228.4 L306.9,229.1 L305.8,229.8 L304.6,230.5 L303.5,231.1 L302.3,231.8 L300.9,232.4 L299.5,233.0 L298.3,233.5 L297.5,233.8Z M298.4,236.4 L299.5,236.1 L301.0,235.5 L302.8,235.0 L304.6,234.4 L306.3,233.9 L307.9,233.4 L309.6,233.0 L311.2,232.7 L312.8,232.3 L314.4,232.0 L316.0,231.6 L317.6,231.3 L319.2,231.0 L320.5,230.7 L321.4,230.4 L321.4,230.2 L320.4,230.1 L319.1,230.1 L317.5,230.2 L315.8,230.2 L314.1,230.3 L312.5,230.5 L310.9,230.7 L309.2,230.9 L307.5,231.1 L305.8,231.4 L304.0,231.8 L302.0,232.3 L300.2,232.8 L298.7,233.3 L297.6,233.6Z M297.6,236.5 L298.8,236.7 L300.5,237.1 L302.4,237.5 L304.4,238.0 L306.3,238.3 L308.1,238.5 L309.9,238.7 L311.7,238.9 L313.5,239.0 L315.2,239.1 L316.9,239.1 L318.7,239.1 L320.4,239.1 L321.8,239.0 L322.8,238.9 L322.8,238.7 L321.8,238.5 L320.4,238.2 L318.8,238.0 L317.0,237.7 L315.4,237.4 L313.7,237.2 L312.0,236.9 L310.2,236.6 L308.5,236.2 L306.8,235.8 L305.0,235.4 L303.0,234.9 L301.2,234.4 L299.5,233.9 L298.4,233.5Z M297.4,236.3 L298.4,236.7 L299.7,237.2 L301.2,237.8 L302.7,238.5 L304.1,239.2 L305.4,239.9 L306.6,240.6 L307.9,241.4 L309.1,242.2 L310.2,243.0 L311.4,243.7 L312.6,244.6 L313.7,245.4 L314.7,246.1 L315.4,246.6 L315.6,246.4 L315.1,245.7 L314.3,244.8 L313.3,243.8 L312.2,242.8 L311.2,241.7 L310.1,240.8 L309.0,239.9 L307.8,238.9 L306.6,238.0 L305.3,237.1 L303.9,236.3 L302.3,235.5 L300.8,234.8 L299.5,234.2 L298.6,233.7Z M296.9,235.7 L297.6,236.7 L298.6,238.0 L299.7,239.6 L301.0,241.2 L302.2,242.7 L303.5,243.9 L304.8,245.0 L306.2,246.1 L307.5,247.2 L308.9,248.2 L310.3,249.1 L311.7,250.0 L313.1,250.8 L314.3,251.5 L315.2,251.9 L315.4,251.7 L314.6,251.0 L313.6,250.2 L312.3,249.2 L311.0,248.1 L309.7,247.0 L308.6,246.0 L307.3,244.8 L306.1,243.6 L305.0,242.4 L303.9,241.2 L302.8,239.8 L301.7,238.2 L300.6,236.6 L299.7,235.2 L299.1,234.3Z M296.9,235.4 L297.3,236.4 L297.8,237.7 L298.4,239.3 L299.1,240.9 L299.8,242.4 L300.6,243.8 L301.5,245.1 L302.3,246.4 L303.2,247.6 L304.1,248.7 L305.0,249.9 L306.0,251.0 L306.9,252.1 L307.8,253.0 L308.4,253.6 L308.6,253.4 L308.2,252.7 L307.5,251.7 L306.7,250.5 L305.9,249.2 L305.2,248.0 L304.4,246.8 L303.7,245.5 L303.0,244.2 L302.3,242.9 L301.7,241.6 L301.1,240.1 L300.5,238.5 L299.9,236.9 L299.4,235.6 L299.1,234.6Z M296.9,235.6 L297.5,236.5 L298.3,237.9 L299.2,239.5 L300.1,241.1 L300.7,242.6 L301.2,244.0 L301.7,245.6 L302.0,247.1 L302.3,248.6 L302.6,250.1 L302.8,251.6 L303.0,253.2 L303.1,254.8 L303.2,256.1 L303.4,257.0 L303.6,257.0 L303.7,256.1 L303.8,254.8 L303.9,253.2 L304.0,251.6 L303.9,250.0 L303.8,248.4 L303.6,246.8 L303.4,245.2 L303.1,243.5 L302.6,241.9 L302.0,240.2 L301.2,238.5 L300.3,236.8 L299.6,235.4 L299.1,234.4Z M297.0,234.5 L296.8,235.0 L296.4,235.8 L295.9,236.7 L295.4,237.6 L295.0,238.6 L294.8,239.5 L294.6,240.5 L294.5,241.4 L294.4,242.3 L294.3,243.1 L294.3,244.0 L294.3,244.9 L294.4,245.8 L294.5,246.5 L294.6,247.0 L294.8,247.0 L295.0,246.5 L295.1,245.8 L295.2,244.9 L295.3,244.1 L295.5,243.3 L295.7,242.5 L295.9,241.6 L296.2,240.8 L296.4,240.0 L296.8,239.3 L297.1,238.5 L297.6,237.6 L298.1,236.8 L298.6,236.1 L299.0,235.5Z M299.1,234.9 L299.0,234.2 L298.8,233.2 L298.6,232.1 L298.4,230.9 L298.1,229.8 L297.8,228.8 L297.4,227.8 L296.9,226.9 L296.5,225.9 L296.0,225.1 L295.5,224.2 L295.0,223.4 L294.5,222.6 L294.0,221.9 L293.6,221.4 L293.4,221.6 L293.6,222.1 L293.9,222.9 L294.2,223.8 L294.6,224.7 L294.9,225.6 L295.3,226.5 L295.6,227.4 L295.9,228.3 L296.1,229.3 L296.3,230.2 L296.5,231.2 L296.7,232.4 L296.8,233.5 L296.9,234.4 L296.9,235.1Z" fill="#dce626" stroke="#dce626" stroke-width="0.3" stroke-linejoin="round"/>
<ellipse cx="298.5" cy="235" rx="5.2" ry="4" fill="#dfe828"/>
<path d="M296,243 q5,2 8,10 q-6,-2 -8,-10Z M302,241.5 q6,3 9,9 q-7,-2 -9,-9Z" fill="none" stroke="#14100a" stroke-width="0.9"/>
<path d="M196.0,284.0C199.2,285.0 207.7,289.3 215.0,290.0C222.3,290.7 231.0,288.4 240.0,288.0C249.0,287.6 264.2,287.6 269.0,287.5" stroke="#c9bc2a" stroke-width="1.15" fill="none"/>
<path d="M200.0,286.0C201.7,288.3 206.3,294.7 210.0,300.0C213.7,305.3 218.3,313.0 222.0,318.0C225.7,323.0 228.8,326.0 232.0,330.0C235.2,334.0 239.5,340.0 241.0,342.0" stroke="#c9bc2a" stroke-width="1.15" fill="none"/>
<path d="M206.0,288.0C208.7,291.0 217.0,301.0 222.0,306.0C227.0,311.0 231.3,316.0 236.0,318.0C240.7,320.0 246.7,317.0 250.0,318.0C253.3,319.0 255.0,323.0 256.0,324.0" stroke="#c9bc2a" stroke-width="1.15" fill="none"/>
<path d="M246.0,290.0C247.5,291.7 253.0,296.3 255.0,300.0C257.0,303.7 257.5,310.0 258.0,312.0" stroke="#c9bc2a" stroke-width="1.15" fill="none"/>
<path d="M236.0,318.0C237.3,320.0 242.3,327.0 244.0,330.0C245.7,333.0 245.7,335.0 246.0,336.0" stroke="#c9bc2a" stroke-width="1.15" fill="none"/>
<path d="M196.0,284.0C197.3,286.0 201.7,291.3 204.0,296.0C206.3,300.7 207.3,307.3 210.0,312.0C212.7,316.7 217.3,320.3 220.0,324.0C222.7,327.7 225.0,332.3 226.0,334.0" stroke="#c9bc2a" stroke-width="1.15" fill="none"/>
</g>
<path d="M446,8.2 L91.2,8.2 L91.2,100 L95.3,128.2 L100,128.2" stroke="#222222" stroke-width="1.3" fill="none"/>
<path d="M444.8,5.3 L444.8,11.1 L452.4,8.2 Z" fill="#222222"/>
<path d="M446,157.3 L77.5,157.3" stroke="#222222" stroke-width="1.3" fill="none"/>
<path d="M444.8,154.4 L444.8,160.2 L452.4,157.3 Z" fill="#222222"/>
<path d="M446,235.6 L300,235.6" stroke="#222222" stroke-width="1.3" fill="none"/>
<path d="M444.8,232.7 L444.8,238.5 L452.4,235.6 Z" fill="#222222"/>
<path d="M446,271.7 L268,271.7" stroke="#222222" stroke-width="1.3" fill="none"/>
<path d="M444.8,268.9 L444.8,274.7 L452.4,271.8 Z" fill="#222222"/>
<path d="M446,354.4 L233,354.4" stroke="#222222" stroke-width="1.3" fill="none"/>
<path d="M444.8,351.5 L444.8,357.3 L452.4,354.4 Z" fill="#222222"/>
<path d="M446,391.6 L245.5,391.6" stroke="#222222" stroke-width="1.3" fill="none"/>
<path d="M444.8,388.7 L444.8,394.5 L452.4,391.6 Z" fill="#222222"/>
<text x="459.4" y="12.2" textLength="43.2" lengthAdjust="spacingAndGlyphs">Inferior</text>
<text x="507.9" y="12.2" textLength="50.3" lengthAdjust="spacingAndGlyphs">Alveolar</text>
<text x="565.6" y="12.2" textLength="36.7" lengthAdjust="spacingAndGlyphs">Nerve</text>
<text x="609.1" y="12.2" textLength="23.3" lengthAdjust="spacingAndGlyphs">and</text>
<text x="635.9" y="12.2" textLength="37.0" lengthAdjust="spacingAndGlyphs">Artery</text>
<text x="462.4" y="161.9" textLength="61.1" lengthAdjust="spacingAndGlyphs">Mylohyoid</text>
<text x="532.6" y="161.9" textLength="36.2" lengthAdjust="spacingAndGlyphs">Nerve</text>
<text x="575.3" y="161.9" textLength="22.9" lengthAdjust="spacingAndGlyphs">and</text>
<text x="602.6" y="161.9" textLength="37.4" lengthAdjust="spacingAndGlyphs">Artery</text>
<text x="459.4" y="239.6" textLength="41.8" lengthAdjust="spacingAndGlyphs">Mental</text>
<text x="507.6" y="239.6" textLength="36.5" lengthAdjust="spacingAndGlyphs">Nerve</text>
<text x="459.4" y="279.3" textLength="61.6" lengthAdjust="spacingAndGlyphs">Mylohyoid</text>
<text x="529.1" y="279.3" textLength="22.1" lengthAdjust="spacingAndGlyphs">line</text>
<text x="461.7" y="362.1" textLength="50.1" lengthAdjust="spacingAndGlyphs">Anterior</text>
<text x="518.2" y="362.1" textLength="29.0" lengthAdjust="spacingAndGlyphs">Belly</text>
<text x="553.6" y="362.1" textLength="11.0" lengthAdjust="spacingAndGlyphs">of</text>
<text x="570.6" y="362.1" textLength="57.0" lengthAdjust="spacingAndGlyphs">Digastric</text>
<text x="462.4" y="399.0" textLength="61.1" lengthAdjust="spacingAndGlyphs">Mylohyoid</text>
<text x="532.6" y="399.0" textLength="43.7" lengthAdjust="spacingAndGlyphs">Muscle</text>
</svg>
</body></html>
